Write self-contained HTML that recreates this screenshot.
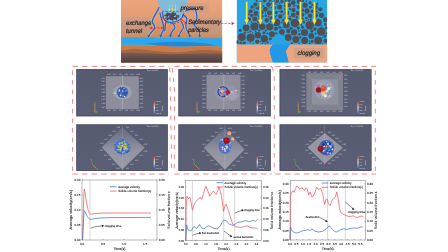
<!DOCTYPE html>
<html><head><meta charset="utf-8"><title>Graphical abstract</title>
<style>html,body{margin:0;padding:0;background:#fff;}body{width:448px;height:252px;overflow:hidden;}svg{display:block}text{text-rendering:geometricPrecision}</style>
</head><body>
<svg width="448" height="252" viewBox="0 0 448 252">
<defs>
<linearGradient id="gSoil" x1="0" y1="0" x2="0" y2="1"><stop offset="0" stop-color="#eda57c"/><stop offset="0.3" stop-color="#e09c74"/><stop offset="0.6" stop-color="#cf8a5e"/><stop offset="1" stop-color="#c47d50"/></linearGradient>
<linearGradient id="gDark" x1="0" y1="0" x2="0" y2="1"><stop offset="0" stop-color="#7a5a4c"/><stop offset="0.5" stop-color="#5f4c4a"/><stop offset="1" stop-color="#483d41"/></linearGradient>
<linearGradient id="gPanel" x1="0" y1="0" x2="0" y2="1"><stop offset="0" stop-color="#565b70"/><stop offset="1" stop-color="#5a5f75"/></linearGradient>
<linearGradient id="gDia" x1="0" y1="0" x2="0" y2="1"><stop offset="0" stop-color="#666a80"/><stop offset="0.3" stop-color="#7c7f90"/><stop offset="0.55" stop-color="#9394a1"/><stop offset="1" stop-color="#9b9ca7"/></linearGradient>
<linearGradient id="gBar" x1="0" y1="0" x2="0" y2="1"><stop offset="0" stop-color="#c42b2b"/><stop offset="0.3" stop-color="#e9a48c"/><stop offset="0.5" stop-color="#e6e6e6"/><stop offset="0.7" stop-color="#9db8e6"/><stop offset="1" stop-color="#3a55c0"/></linearGradient>
<clipPath id="clipL"><rect x="121" y="0" width="101.3" height="62.6"/></clipPath>
<clipPath id="clipR"><rect x="236.6" y="0" width="90.6" height="62.6"/></clipPath>
</defs>
<rect width="448" height="252" fill="#fff"/>
<g clip-path="url(#clipL)">
<rect x="121" y="0" width="101.30000000000001" height="62.6" fill="url(#gSoil)"/>
<path d="M121,44 L222.3,44 L222.3,63 L121,63Z" fill="#c87a49"/>
<path d="M121,50.6 C126,50 130,48.8 134,48.9 C142,49 150,50.6 160,51.6 S180,52.8 190,51.2 S210,49.8 222.3,51.4 L222.3,63 L121,63Z" fill="#a06746"/>
<path d="M121,53.4 C132,52 148,53.4 163,54 S198,53 222.3,53.6 L222.3,63 L121,63Z" fill="url(#gDark)"/>
<path d="M121,37.2 C140,36.6 160,37.6 180,37.6 S210,38 222.3,37.5 L222.3,46.9 C212,46.9 206,45.6 198,46.1 S182,46.8 170,46.2 S140,45 121,45.2Z" fill="#2ba8ee" stroke="#ee8a3c" stroke-width="0.5"/>
<path d="M146,43.6 C158,42.6 168,41.4 182,41.8 S206,43.4 217,45.6 C210,46.2 204,45.8 198,46.1 S182,46.8 170,46.2 S154,45.2 146,43.6Z" fill="#2487d8"/>
<path d="M157.4,0 L187.8,0 L184,12 C183.5,19 178,23.5 171,23.5 C165,23.5 162.3,19 162.2,12Z" fill="#7fbbdb"/>
<rect x="121" y="17" width="33" height="18.5" fill="#b0a09c" opacity="0.4"/>
<rect x="180" y="2.8" width="28.7" height="10" fill="#b0a09c" opacity="0.4"/>
<rect x="186.5" y="17" width="36" height="17.5" fill="#b0a09c" opacity="0.4"/>
<path d="M158.9,7.5 C157,13 152,18 152.3,22 C153,24.5 155.2,25 154.5,28 C153.5,31 150,33 148.6,36.4" fill="none" stroke="#f4b48c" stroke-width="2.4" stroke-linecap="round"/>
<path d="M160,13 C160.5,19 164.5,24 163.7,28.5 C163,32 161,33.5 160.6,36.4" fill="none" stroke="#f4b48c" stroke-width="2.4" stroke-linecap="round"/>
<path d="M166,22 C164,26 166.5,28 164.5,31" fill="none" stroke="#f4b48c" stroke-width="2.4" stroke-linecap="round"/>
<path d="M172.5,23 C174,25 176,26.5 174.5,28.5 C172.5,31 170.8,32 170.4,36.4" fill="none" stroke="#f4b48c" stroke-width="2.4" stroke-linecap="round"/>
<path d="M181,21.5 C183,24 184.3,26 183,28.5 C181,31.5 179.5,33 179,36.4" fill="none" stroke="#f4b48c" stroke-width="2.4" stroke-linecap="round"/>
<path d="M183,15 C186,16 187.5,18.5 186.5,22 C185.3,26 185.5,28 187,30.5 C188.5,33 189.5,34.5 189.8,36.4" fill="none" stroke="#f4b48c" stroke-width="2.4" stroke-linecap="round"/>
<path d="M195.5,9 C196,13 197.6,15.5 196.8,18.5 C196,21.5 193.5,23 194.6,25.5 C196,28 199,29 199.5,32 L199.6,36.4" fill="none" stroke="#f4b48c" stroke-width="2.4" stroke-linecap="round"/>
<path d="M185.5,11 C190,9 194,8.5 195.5,9" fill="none" stroke="#f4b48c" stroke-width="2.4" stroke-linecap="round"/>
<path d="M162.4,12.5 C162.6,18 165,22.3 170,22.4 C174,22.5 177,21.5 179.5,20 C181.5,18.5 183,16.5 183.4,14" fill="none" stroke="#f4b48c" stroke-width="2.4" stroke-linecap="round"/>
<path d="M158.9,7.5 C157,13 152,18 152.3,22 C153,24.5 155.2,25 154.5,28 C153.5,31 150,33 148.6,36.4" fill="none" stroke="#1668d2" stroke-width="1.35" stroke-linecap="round"/>
<path d="M160,13 C160.5,19 164.5,24 163.7,28.5 C163,32 161,33.5 160.6,36.4" fill="none" stroke="#1668d2" stroke-width="1.35" stroke-linecap="round"/>
<path d="M166,22 C164,26 166.5,28 164.5,31" fill="none" stroke="#1668d2" stroke-width="1.35" stroke-linecap="round"/>
<path d="M172.5,23 C174,25 176,26.5 174.5,28.5 C172.5,31 170.8,32 170.4,36.4" fill="none" stroke="#1668d2" stroke-width="1.35" stroke-linecap="round"/>
<path d="M181,21.5 C183,24 184.3,26 183,28.5 C181,31.5 179.5,33 179,36.4" fill="none" stroke="#1668d2" stroke-width="1.35" stroke-linecap="round"/>
<path d="M183,15 C186,16 187.5,18.5 186.5,22 C185.3,26 185.5,28 187,30.5 C188.5,33 189.5,34.5 189.8,36.4" fill="none" stroke="#1668d2" stroke-width="1.35" stroke-linecap="round"/>
<path d="M195.5,9 C196,13 197.6,15.5 196.8,18.5 C196,21.5 193.5,23 194.6,25.5 C196,28 199,29 199.5,32 L199.6,36.4" fill="none" stroke="#1668d2" stroke-width="1.35" stroke-linecap="round"/>
<path d="M185.5,11 C190,9 194,8.5 195.5,9" fill="none" stroke="#1668d2" stroke-width="1.35" stroke-linecap="round"/>
<path d="M162.4,12.5 C162.6,18 165,22.3 170,22.4 C174,22.5 177,21.5 179.5,20 C181.5,18.5 183,16.5 183.4,14" fill="none" stroke="#1668d2" stroke-width="1.35" stroke-linecap="round"/>
<path d="M147.0,35.3 L150.0,35.3 L148.5,37.9Z" fill="#1a63c8"/>
<path d="M159.1,35.3 L162.1,35.3 L160.6,37.9Z" fill="#1a63c8"/>
<path d="M168.9,35.3 L171.9,35.3 L170.4,37.9Z" fill="#1a63c8"/>
<path d="M177.5,35.3 L180.5,35.3 L179,37.9Z" fill="#1a63c8"/>
<path d="M188.3,35.3 L191.3,35.3 L189.8,37.9Z" fill="#1a63c8"/>
<path d="M198.1,35.3 L201.1,35.3 L199.6,37.9Z" fill="#1a63c8"/>
<circle cx="170.35" cy="17.92" r="0.93" fill="#4b454c"/>
<circle cx="176.33" cy="17.82" r="0.78" fill="#4b454c"/>
<circle cx="176.39" cy="17.56" r="0.62" fill="#4b454c"/>
<circle cx="169.86" cy="17.01" r="0.65" fill="#4b454c"/>
<circle cx="165.78" cy="18.18" r="0.66" fill="#4b454c"/>
<circle cx="172.55" cy="19.57" r="1.07" fill="#4b454c"/>
<circle cx="167.59" cy="15.49" r="1.09" fill="#4b454c"/>
<circle cx="177.99" cy="17.62" r="0.74" fill="#4b454c"/>
<circle cx="173.12" cy="17.63" r="0.75" fill="#4b454c"/>
<circle cx="172.84" cy="15.12" r="0.89" fill="#4b454c"/>
<circle cx="168.78" cy="14.82" r="0.87" fill="#4b454c"/>
<circle cx="173.22" cy="16.96" r="0.70" fill="#4b454c"/>
<circle cx="169.61" cy="14.35" r="0.76" fill="#4b454c"/>
<circle cx="167.44" cy="15.29" r="0.75" fill="#4b454c"/>
<circle cx="173.26" cy="13.55" r="0.72" fill="#4b454c"/>
<circle cx="166.94" cy="15.36" r="1.04" fill="#4b454c"/>
<circle cx="171.10" cy="14.58" r="1.09" fill="#4b454c"/>
<circle cx="175.03" cy="18.26" r="0.98" fill="#4b454c"/>
<circle cx="174.51" cy="18.77" r="0.62" fill="#4b454c"/>
<circle cx="168.51" cy="13.71" r="0.89" fill="#4b454c"/>
<circle cx="174.46" cy="15.10" r="0.95" fill="#4b454c"/>
<circle cx="167.05" cy="14.98" r="0.83" fill="#4b454c"/>
<circle cx="175.35" cy="13.48" r="0.84" fill="#4b454c"/>
<circle cx="170.69" cy="15.80" r="0.95" fill="#4b454c"/>
<circle cx="167.28" cy="13.58" r="1.01" fill="#4b454c"/>
<circle cx="170.64" cy="18.90" r="0.93" fill="#4b454c"/>
<circle cx="176.44" cy="16.96" r="0.68" fill="#4b454c"/>
<circle cx="172.90" cy="17.22" r="0.98" fill="#4b454c"/>
<circle cx="174.06" cy="17.97" r="0.80" fill="#4b454c"/>
<circle cx="173.01" cy="15.82" r="0.82" fill="#4b454c"/>
<circle cx="165.16" cy="15.51" r="1.01" fill="#4b454c"/>
<circle cx="174.09" cy="15.09" r="0.81" fill="#4b454c"/>
<circle cx="167.32" cy="19.37" r="1.08" fill="#4b454c"/>
<circle cx="173.36" cy="17.90" r="0.72" fill="#4b454c"/>
<circle cx="172.12" cy="19.23" r="0.89" fill="#4b454c"/>
<circle cx="171.56" cy="16.84" r="0.81" fill="#4b454c"/>
<circle cx="167.91" cy="18.69" r="1.08" fill="#4b454c"/>
<circle cx="169.71" cy="14.06" r="0.91" fill="#4b454c"/>
<circle cx="170.85" cy="15.81" r="1.05" fill="#4b454c"/>
<circle cx="172.86" cy="13.11" r="1.00" fill="#4b454c"/>
<circle cx="168.05" cy="18.10" r="0.65" fill="#4b454c"/>
<circle cx="170.41" cy="15.89" r="0.63" fill="#4b454c"/>
<circle cx="172.34" cy="18.08" r="0.77" fill="#4b454c"/>
<circle cx="171.70" cy="16.62" r="0.68" fill="#4b454c"/>
<circle cx="175.09" cy="17.96" r="0.61" fill="#4b454c"/>
<circle cx="175.57" cy="14.49" r="0.67" fill="#4b454c"/>
<circle cx="171.54" cy="18.84" r="0.78" fill="#4b454c"/>
<circle cx="176.35" cy="19.04" r="1.10" fill="#4b454c"/>
<circle cx="166.71" cy="17.16" r="0.64" fill="#4b454c"/>
<circle cx="174.98" cy="17.93" r="0.73" fill="#4b454c"/>
<circle cx="172.98" cy="15.26" r="0.61" fill="#4b454c"/>
<circle cx="176.59" cy="15.76" r="0.67" fill="#4b454c"/>
<circle cx="170.46" cy="16.43" r="0.86" fill="#4b454c"/>
<circle cx="178.23" cy="16.12" r="0.95" fill="#4b454c"/>
<circle cx="171.30" cy="18.90" r="0.68" fill="#4b454c"/>
<circle cx="172.32" cy="13.85" r="0.99" fill="#4b454c"/>
<circle cx="169.97" cy="18.17" r="1.01" fill="#4b454c"/>
<circle cx="178.22" cy="16.27" r="1.00" fill="#4b454c"/>
<circle cx="174.18" cy="13.63" r="0.71" fill="#4b454c"/>
<circle cx="167.33" cy="16.35" r="0.61" fill="#4b454c"/>
<path d="M162,11.4 L184,11.4" stroke="#e8202a" stroke-width="0.7" stroke-dasharray="2.2,1.4" fill="none"/>
<path d="M162.3,13 C162,20 166,23.7 172,23.7 C178,23.7 183,21 184,13" stroke="#e8202a" stroke-width="0.7" stroke-dasharray="2.2,1.4" fill="none"/>
<path d="M151,28 L162,28" stroke="#e8202a" stroke-width="0.8" stroke-dasharray="2,1.3" fill="none"/>
<path d="M149.3,28 L151.6,26.8 L151.6,29.2Z M163.6,28 L161.3,26.8 L161.3,29.2Z" fill="#e8202a"/>
<path d="M181,19 L186,23" stroke="#e8202a" stroke-width="0.8" fill="none"/>
<path d="M186.8,23.6 L184.3,23.2 L185.8,21.4Z" fill="#e8202a"/>
<path d="M169.3,4.5 L169.3,9.5" stroke="#f5ee3a" stroke-width="0.6" stroke-dasharray="1.2,0.6"/>
<path d="M168.20000000000002,9.2 L170.4,9.2 L169.3,11.2Z" fill="#fff200"/>
<path d="M172.3,4.5 L172.3,9.5" stroke="#f5ee3a" stroke-width="0.6" stroke-dasharray="1.2,0.6"/>
<path d="M171.20000000000002,9.2 L173.4,9.2 L172.3,11.2Z" fill="#fff200"/>
<path d="M175.4,4.5 L175.4,9.5" stroke="#f5ee3a" stroke-width="0.6" stroke-dasharray="1.2,0.6"/>
<path d="M174.3,9.2 L176.5,9.2 L175.4,11.2Z" fill="#fff200"/>
</g>
<text x="180.4" y="10" style="font-family:'Liberation Sans', sans-serif;font-style:italic;fill:#1e1a1a;stroke:#1e1a1a;stroke-width:0.18" font-size="6.3" textLength="23.2" lengthAdjust="spacingAndGlyphs">pressure</text>
<text x="125.9" y="25" style="font-family:'Liberation Sans', sans-serif;font-style:italic;fill:#1e1a1a;stroke:#1e1a1a;stroke-width:0.18" font-size="6.3" textLength="25.4" lengthAdjust="spacingAndGlyphs">exchange</text>
<text x="125.9" y="32.6" style="font-family:'Liberation Sans', sans-serif;font-style:italic;fill:#1e1a1a;stroke:#1e1a1a;stroke-width:0.18" font-size="6.3" textLength="16.2" lengthAdjust="spacingAndGlyphs">tunnel</text>
<text x="188.2" y="24.4" style="font-family:'Liberation Sans', sans-serif;font-style:italic;fill:#1e1a1a;stroke:#1e1a1a;stroke-width:0.18" font-size="6.3" textLength="32.6" lengthAdjust="spacingAndGlyphs">Sedimentary</text>
<text x="188.2" y="32" style="font-family:'Liberation Sans', sans-serif;font-style:italic;fill:#1e1a1a;stroke:#1e1a1a;stroke-width:0.18" font-size="6.3" textLength="20.7" lengthAdjust="spacingAndGlyphs">particles</text>
<path d="M185,23.4 L231,23.4" stroke="#e8202a" stroke-width="0.7" stroke-dasharray="2.2,1.4" fill="none"/>
<path d="M234.6,23.5 L231.6,22.1 L231.6,24.9Z" fill="#e8202a"/>
<g clip-path="url(#clipR)">
<rect x="236.6" y="0" width="90.6" height="62.6" fill="#28a5e3"/>
<circle cx="269.64" cy="26.85" r="3.63" fill="#504e54"/>
<circle cx="254.42" cy="26.50" r="4.02" fill="#504e54"/>
<circle cx="318.17" cy="40.49" r="3.88" fill="#504e54"/>
<circle cx="295.76" cy="39.59" r="3.48" fill="#504e54"/>
<circle cx="304.56" cy="32.52" r="3.58" fill="#504e54"/>
<circle cx="309.67" cy="25.22" r="4.23" fill="#504e54"/>
<circle cx="286.31" cy="24.88" r="3.41" fill="#504e54"/>
<circle cx="321.19" cy="31.54" r="4.27" fill="#504e54"/>
<circle cx="250.59" cy="37.75" r="4.06" fill="#504e54"/>
<circle cx="276.51" cy="22.40" r="3.73" fill="#504e54"/>
<circle cx="246.09" cy="27.84" r="3.44" fill="#504e54"/>
<circle cx="288.30" cy="37.41" r="3.49" fill="#504e54"/>
<circle cx="241.81" cy="37.14" r="3.83" fill="#504e54"/>
<circle cx="264.23" cy="38.71" r="3.69" fill="#504e54"/>
<circle cx="294.88" cy="22.96" r="4.24" fill="#504e54"/>
<circle cx="304.62" cy="40.46" r="3.52" fill="#504e54"/>
<circle cx="317.87" cy="22.67" r="3.81" fill="#504e54"/>
<circle cx="311.35" cy="35.89" r="2.95" fill="#504e54"/>
<circle cx="262.31" cy="26.72" r="3.28" fill="#504e54"/>
<circle cx="294.07" cy="32.32" r="3.17" fill="#504e54"/>
<circle cx="257.80" cy="35.35" r="3.26" fill="#504e54"/>
<circle cx="272.00" cy="34.22" r="3.03" fill="#504e54"/>
<circle cx="281.86" cy="31.77" r="2.87" fill="#504e54"/>
<circle cx="273.57" cy="3.31" r="2.30" fill="#504e54"/>
<circle cx="305.18" cy="5.16" r="2.63" fill="#504e54"/>
<circle cx="255.91" cy="13.50" r="2.46" fill="#504e54"/>
<circle cx="315.49" cy="7.56" r="2.49" fill="#504e54"/>
<circle cx="289.27" cy="5.11" r="2.05" fill="#504e54"/>
<circle cx="286.81" cy="13.05" r="2.45" fill="#504e54"/>
<circle cx="279.70" cy="7.12" r="2.55" fill="#504e54"/>
<circle cx="261.30" cy="12.30" r="2.34" fill="#504e54"/>
<circle cx="269.48" cy="12.67" r="2.52" fill="#504e54"/>
<circle cx="286.50" cy="18.27" r="2.08" fill="#504e54"/>
<circle cx="280.22" cy="16.53" r="2.19" fill="#504e54"/>
<circle cx="321.53" cy="15.32" r="2.59" fill="#504e54"/>
<circle cx="315.92" cy="15.35" r="2.12" fill="#504e54"/>
<circle cx="293.34" cy="15.05" r="2.34" fill="#504e54"/>
<circle cx="302.21" cy="14.81" r="2.10" fill="#504e54"/>
<circle cx="307.10" cy="10.92" r="2.63" fill="#504e54"/>
<circle cx="293.42" cy="10.08" r="2.19" fill="#504e54"/>
<circle cx="260.37" cy="19.52" r="2.18" fill="#504e54"/>
<circle cx="299.06" cy="1.70" r="2.34" fill="#504e54"/>
<circle cx="248.90" cy="19.28" r="2.15" fill="#504e54"/>
<circle cx="260.58" cy="3.10" r="2.07" fill="#504e54"/>
<circle cx="271.52" cy="18.45" r="2.13" fill="#504e54"/>
<circle cx="250.54" cy="11.32" r="2.10" fill="#504e54"/>
<circle cx="254.87" cy="19.04" r="2.52" fill="#504e54"/>
<circle cx="310.06" cy="15.86" r="2.27" fill="#504e54"/>
<circle cx="275.90" cy="28.77" r="2.07" fill="#504e54"/>
<circle cx="297.75" cy="13.27" r="2.17" fill="#504e54"/>
<circle cx="255.35" cy="4.54" r="2.10" fill="#504e54"/>
<circle cx="298.74" cy="6.97" r="2.07" fill="#504e54"/>
<circle cx="257.18" cy="41.61" r="2.06" fill="#504e54"/>
<circle cx="266.78" cy="20.23" r="2.19" fill="#504e54"/>
<circle cx="288.28" cy="31.00" r="2.18" fill="#504e54"/>
<circle cx="268.52" cy="4.54" r="2.37" fill="#504e54"/>
<circle cx="325.44" cy="19.65" r="2.48" fill="#504e54"/>
<circle cx="265.39" cy="9.24" r="2.44" fill="#504e54"/>
<circle cx="325.49" cy="40.93" r="2.12" fill="#504e54"/>
<circle cx="301.60" cy="19.32" r="2.10" fill="#504e54"/>
<circle cx="320.31" cy="9.33" r="2.05" fill="#504e54"/>
<circle cx="293.24" cy="2.63" r="2.34" fill="#504e54"/>
<circle cx="298.17" cy="28.11" r="1.53" fill="#504e54"/>
<circle cx="270.29" cy="38.75" r="1.53" fill="#504e54"/>
<circle cx="244.25" cy="42.99" r="1.60" fill="#504e54"/>
<circle cx="311.82" cy="30.98" r="1.67" fill="#504e54"/>
<circle cx="291.10" cy="28.17" r="1.50" fill="#504e54"/>
<circle cx="302.46" cy="10.27" r="1.69" fill="#504e54"/>
<circle cx="276.20" cy="12.67" r="1.69" fill="#504e54"/>
<circle cx="252.03" cy="7.01" r="1.69" fill="#504e54"/>
<circle cx="289.18" cy="0.56" r="1.61" fill="#504e54"/>
<circle cx="312.15" cy="41.44" r="1.58" fill="#504e54"/>
<circle cx="310.47" cy="7.18" r="1.49" fill="#504e54"/>
<circle cx="277.33" cy="1.40" r="1.59" fill="#504e54"/>
<circle cx="274.48" cy="7.73" r="1.84" fill="#504e54"/>
<circle cx="257.70" cy="8.37" r="1.52" fill="#504e54"/>
<circle cx="264.59" cy="0.61" r="1.83" fill="#504e54"/>
<circle cx="302.52" cy="27.27" r="1.45" fill="#504e54"/>
<circle cx="263.93" cy="32.81" r="1.53" fill="#504e54"/>
<circle cx="251.80" cy="15.48" r="1.80" fill="#504e54"/>
<circle cx="290.18" cy="19.31" r="1.45" fill="#504e54"/>
<circle cx="281.94" cy="1.61" r="1.64" fill="#504e54"/>
<circle cx="314.98" cy="29.04" r="1.79" fill="#504e54"/>
<circle cx="281.66" cy="11.64" r="1.54" fill="#504e54"/>
<circle cx="240.18" cy="30.45" r="1.60" fill="#504e54"/>
<circle cx="310.02" cy="2.81" r="1.62" fill="#504e54"/>
<circle cx="237.39" cy="41.98" r="1.71" fill="#504e54"/>
<circle cx="312.42" cy="11.17" r="1.79" fill="#504e54"/>
<circle cx="326.48" cy="27.77" r="1.61" fill="#504e54"/>
<circle cx="240.82" cy="42.96" r="1.54" fill="#504e54"/>
<circle cx="270.05" cy="0.31" r="1.53" fill="#504e54"/>
<circle cx="324.87" cy="36.27" r="1.47" fill="#504e54"/>
<circle cx="276.48" cy="33.31" r="1.18" fill="#504e54"/>
<circle cx="273.57" cy="15.47" r="1.15" fill="#504e54"/>
<circle cx="303.84" cy="22.23" r="1.19" fill="#504e54"/>
<circle cx="299.37" cy="34.21" r="1.22" fill="#504e54"/>
<circle cx="302.94" cy="0.84" r="1.20" fill="#504e54"/>
<circle cx="300.24" cy="37.40" r="1.15" fill="#504e54"/>
<circle cx="306.44" cy="18.01" r="1.29" fill="#504e54"/>
<circle cx="265.73" cy="15.81" r="1.31" fill="#504e54"/>
<circle cx="262.33" cy="16.18" r="1.23" fill="#504e54"/>
<circle cx="309.81" cy="43.49" r="1.03" fill="#504e54"/>
<circle cx="259.19" cy="30.35" r="1.20" fill="#504e54"/>
<circle cx="283.30" cy="20.27" r="1.31" fill="#504e54"/>
<circle cx="294.05" cy="6.33" r="1.03" fill="#504e54"/>
<circle cx="260.79" cy="7.33" r="1.31" fill="#504e54"/>
<circle cx="257.78" cy="22.35" r="1.02" fill="#504e54"/>
<circle cx="290.03" cy="8.89" r="1.04" fill="#504e54"/>
<circle cx="314.84" cy="3.30" r="1.03" fill="#504e54"/>
<circle cx="325.40" cy="24.41" r="1.31" fill="#504e54"/>
<circle cx="284.99" cy="9.36" r="1.07" fill="#504e54"/>
<circle cx="301.24" cy="24.71" r="1.09" fill="#504e54"/>
<circle cx="296.85" cy="17.43" r="1.31" fill="#504e54"/>
<circle cx="267.45" cy="33.53" r="1.08" fill="#504e54"/>
<circle cx="246.73" cy="22.21" r="1.18" fill="#504e54"/>
<circle cx="281.77" cy="22.46" r="1.04" fill="#504e54"/>
<circle cx="326.73" cy="33.34" r="1.19" fill="#504e54"/>
<circle cx="285.01" cy="5.79" r="1.18" fill="#504e54"/>
<circle cx="248.80" cy="14.36" r="1.04" fill="#504e54"/>
<circle cx="316.43" cy="11.67" r="1.16" fill="#504e54"/>
<circle cx="317.15" cy="3.95" r="1.10" fill="#504e54"/>
<circle cx="263.39" cy="6.06" r="1.05" fill="#504e54"/>
<circle cx="291.76" cy="43.37" r="1.05" fill="#504e54"/>
<circle cx="250.40" cy="31.38" r="1.08" fill="#504e54"/>
<circle cx="258.94" cy="16.14" r="1.02" fill="#504e54"/>
<circle cx="256.69" cy="1.00" r="1.14" fill="#504e54"/>
<circle cx="312.28" cy="4.97" r="1.07" fill="#504e54"/>
<circle cx="310.85" cy="19.66" r="1.18" fill="#504e54"/>
<circle cx="279.66" cy="27.35" r="1.27" fill="#504e54"/>
<circle cx="267.65" cy="42.72" r="1.10" fill="#504e54"/>
<circle cx="265.79" cy="30.54" r="1.12" fill="#504e54"/>
<circle cx="285.67" cy="1.12" r="1.22" fill="#504e54"/>
<circle cx="315.50" cy="33.60" r="1.04" fill="#504e54"/>
<circle cx="244.98" cy="32.69" r="1.27" fill="#504e54"/>
<circle cx="265.35" cy="43.77" r="0.72" fill="#504e54"/>
<circle cx="251.49" cy="22.10" r="0.78" fill="#504e54"/>
<circle cx="248.24" cy="32.24" r="0.84" fill="#504e54"/>
<circle cx="252.70" cy="32.87" r="0.74" fill="#504e54"/>
<circle cx="278.90" cy="11.53" r="0.76" fill="#504e54"/>
<circle cx="262.41" cy="43.25" r="0.87" fill="#504e54"/>
<circle cx="281.96" cy="27.80" r="0.71" fill="#504e54"/>
<circle cx="284.57" cy="3.15" r="0.69" fill="#504e54"/>
<circle cx="298.80" cy="30.99" r="0.81" fill="#504e54"/>
<circle cx="265.44" cy="13.00" r="0.71" fill="#504e54"/>
<circle cx="321.49" cy="25.99" r="0.81" fill="#504e54"/>
<circle cx="309.48" cy="40.96" r="0.76" fill="#504e54"/>
<circle cx="276.85" cy="15.34" r="0.71" fill="#504e54"/>
<circle cx="299.12" cy="43.34" r="0.87" fill="#504e54"/>
<circle cx="290.20" cy="16.52" r="0.88" fill="#504e54"/>
<circle cx="275.66" cy="16.80" r="0.86" fill="#504e54"/>
<circle cx="254.95" cy="8.08" r="0.79" fill="#504e54"/>
<circle cx="270.35" cy="21.72" r="0.75" fill="#504e54"/>
<circle cx="300.49" cy="30.09" r="0.68" fill="#504e54"/>
<circle cx="250.38" cy="42.77" r="0.70" fill="#504e54"/>
<circle cx="306.35" cy="1.14" r="0.78" fill="#504e54"/>
<circle cx="279.75" cy="3.12" r="0.77" fill="#504e54"/>
<circle cx="305.33" cy="14.19" r="0.74" fill="#504e54"/>
<circle cx="253.22" cy="43.87" r="0.70" fill="#504e54"/>
<circle cx="318.63" cy="12.74" r="0.81" fill="#504e54"/>
<circle cx="313.15" cy="20.54" r="0.70" fill="#504e54"/>
<circle cx="322.62" cy="37.67" r="0.71" fill="#504e54"/>
<circle cx="283.06" cy="14.43" r="0.80" fill="#504e54"/>
<circle cx="258.88" cy="24.27" r="0.68" fill="#504e54"/>
<circle cx="268.90" cy="8.00" r="0.83" fill="#504e54"/>
<circle cx="277.17" cy="4.30" r="0.68" fill="#504e54"/>
<circle cx="260.20" cy="41.71" r="0.71" fill="#504e54"/>
<circle cx="283.72" cy="35.13" r="0.70" fill="#504e54"/>
<circle cx="271.36" cy="7.58" r="0.82" fill="#504e54"/>
<circle cx="296.01" cy="5.36" r="0.71" fill="#504e54"/>
<circle cx="258.71" cy="5.97" r="0.79" fill="#504e54"/>
<circle cx="301.84" cy="6.91" r="0.71" fill="#504e54"/>
<circle cx="268.45" cy="16.40" r="0.88" fill="#504e54"/>
<circle cx="308.34" cy="19.68" r="0.72" fill="#504e54"/>
<circle cx="254.00" cy="10.17" r="0.81" fill="#504e54"/>
<circle cx="274.65" cy="0.05" r="0.80" fill="#504e54"/>
<circle cx="315.02" cy="18.46" r="0.70" fill="#504e54"/>
<circle cx="255.66" cy="31.51" r="0.78" fill="#504e54"/>
<circle cx="322.45" cy="43.78" r="0.68" fill="#504e54"/>
<circle cx="306.31" cy="20.52" r="0.79" fill="#504e54"/>
<circle cx="272.26" cy="9.79" r="0.71" fill="#504e54"/>
<path d="M236.6,44.4 L272.9,44.4 C271,46.5 269.6,49 269.8,51.1 C270,54.5 272,58 273,63 L236.6,63Z" fill="#eea47e"/>
<path d="M327.2,44.4 L289.8,44.4 L285.7,51.1 L288.7,63 L327.2,63Z" fill="#eea47e"/>
<path d="M272.9,44.4 C271,46.5 269.6,49 269.8,51.1 C270,54.5 272,58 273,63 L288.7,63 L285.7,51.1 L289.8,44.4Z" fill="#2398e4"/>
<rect x="294" y="48" width="29.7" height="10.4" fill="#a89a98" opacity="0.42"/>
<path d="M246.7,1.8 L246.7,20.5" stroke="#1892e6" stroke-width="2.6" opacity="0.6"/>
<path d="M246.7,1.8 L246.7,20.5" stroke="#f9e733" stroke-width="1.8"/>
<path d="M244.39999999999998,19.4 L249.0,19.4 L246.7,24.7Z" fill="#f9e733"/>
<path d="M260.4,1.8 L260.4,20.5" stroke="#1892e6" stroke-width="2.6" opacity="0.6"/>
<path d="M260.4,1.8 L260.4,20.5" stroke="#f9e733" stroke-width="1.8"/>
<path d="M258.09999999999997,19.4 L262.7,19.4 L260.4,24.7Z" fill="#f9e733"/>
<path d="M273.4,1.8 L273.4,20.5" stroke="#1892e6" stroke-width="2.6" opacity="0.6"/>
<path d="M273.4,1.8 L273.4,20.5" stroke="#f9e733" stroke-width="1.8"/>
<path d="M271.09999999999997,19.4 L275.7,19.4 L273.4,24.7Z" fill="#f9e733"/>
<path d="M286.6,1.8 L286.6,20.5" stroke="#1892e6" stroke-width="2.6" opacity="0.6"/>
<path d="M286.6,1.8 L286.6,20.5" stroke="#f9e733" stroke-width="1.8"/>
<path d="M284.3,19.4 L288.90000000000003,19.4 L286.6,24.7Z" fill="#f9e733"/>
<path d="M300.5,1.8 L300.5,20.5" stroke="#1892e6" stroke-width="2.6" opacity="0.6"/>
<path d="M300.5,1.8 L300.5,20.5" stroke="#f9e733" stroke-width="1.8"/>
<path d="M298.2,19.4 L302.8,19.4 L300.5,24.7Z" fill="#f9e733"/>
<path d="M314.5,1.8 L314.5,20.5" stroke="#1892e6" stroke-width="2.6" opacity="0.6"/>
<path d="M314.5,1.8 L314.5,20.5" stroke="#f9e733" stroke-width="1.8"/>
<path d="M312.2,19.4 L316.8,19.4 L314.5,24.7Z" fill="#f9e733"/>
</g>
<text x="297.6" y="54.8" style="font-family:'Liberation Sans', sans-serif;font-style:italic;fill:#1e1a1a;stroke:#1e1a1a;stroke-width:0.18" font-size="6.3" textLength="22.5" lengthAdjust="spacingAndGlyphs">clogging</text>
<path d="M72.4,66.4 L169,66.4" stroke="#ec8a88" stroke-width="1" fill="none" stroke-dasharray="5.5,4.1"/>
<path d="M174.3,66.4 L272,66.4" stroke="#ec8a88" stroke-width="1" fill="none" stroke-dasharray="5.5,4.1"/>
<path d="M275.2,66.4 L376,66.4" stroke="#ec8a88" stroke-width="1" fill="none" stroke-dasharray="5.5,4.1"/>
<path d="M72.4,174.0 L169,174.0" stroke="#ec8a88" stroke-width="1" fill="none" stroke-dasharray="5.5,4.1"/>
<path d="M174.3,174.0 L272,174.0" stroke="#ec8a88" stroke-width="1" fill="none" stroke-dasharray="5.5,4.1"/>
<path d="M275.2,174.0 L376,174.0" stroke="#ec8a88" stroke-width="1" fill="none" stroke-dasharray="5.5,4.1"/>
<path d="M72.6,70.4 L72.6,172" stroke="#ec8a88" stroke-width="1" fill="none" stroke-dasharray="4.6,5.0"/>
<path d="M169.6,67.5 L170.3,92 L171.4,150 L171.6,173" stroke="#ec8a88" stroke-width="1" fill="none" stroke-dasharray="4.6,5.0"/>
<path d="M172.2,68 C172.8,76 174.4,84 174.5,92 L174.3,173" stroke="#ec8a88" stroke-width="1" fill="none" stroke-dasharray="4.6,5.0"/>
<path d="M272,67 C273,70 274.2,74 274.2,78 L274.2,173" stroke="#ec8a88" stroke-width="1" fill="none" stroke-dasharray="4.6,5.0"/>
<path d="M375.3,70.4 L375.3,172" stroke="#ec8a88" stroke-width="1" fill="none" stroke-dasharray="4.6,5.0"/>
<rect x="76.2" y="69.1" width="91.6" height="47.3" fill="#3b4058"/>
<rect x="77.0" y="69.6" width="90.6" height="46.0" fill="url(#gPanel)"/>
<rect x="105.80" y="76.20" width="33.00" height="32.90" fill="#8d8d9c"/>
<path d="M122.60,75.20 L122.60,110.10" stroke="#d4d4dc" stroke-width="0.35"/>
<text x="101.50" y="78.70" style="font-family:'Liberation Sans', sans-serif;fill:#e8e8f0" font-size="1.7" opacity="0.9">0.01</text>
<text x="139.80" y="78.70" style="font-family:'Liberation Sans', sans-serif;fill:#e8e8f0" font-size="1.7" opacity="0.9">0.01</text>
<text x="101.50" y="82.31" style="font-family:'Liberation Sans', sans-serif;fill:#e8e8f0" font-size="1.7" opacity="0.9">0.02</text>
<text x="139.80" y="82.31" style="font-family:'Liberation Sans', sans-serif;fill:#e8e8f0" font-size="1.7" opacity="0.9">0.02</text>
<text x="101.50" y="85.92" style="font-family:'Liberation Sans', sans-serif;fill:#e8e8f0" font-size="1.7" opacity="0.9">0.03</text>
<text x="139.80" y="85.92" style="font-family:'Liberation Sans', sans-serif;fill:#e8e8f0" font-size="1.7" opacity="0.9">0.03</text>
<text x="101.50" y="89.54" style="font-family:'Liberation Sans', sans-serif;fill:#e8e8f0" font-size="1.7" opacity="0.9">0.04</text>
<text x="139.80" y="89.54" style="font-family:'Liberation Sans', sans-serif;fill:#e8e8f0" font-size="1.7" opacity="0.9">0.04</text>
<text x="101.50" y="93.15" style="font-family:'Liberation Sans', sans-serif;fill:#e8e8f0" font-size="1.7" opacity="0.9">0.05</text>
<text x="139.80" y="93.15" style="font-family:'Liberation Sans', sans-serif;fill:#e8e8f0" font-size="1.7" opacity="0.9">0.05</text>
<text x="101.50" y="96.76" style="font-family:'Liberation Sans', sans-serif;fill:#e8e8f0" font-size="1.7" opacity="0.9">0.06</text>
<text x="139.80" y="96.76" style="font-family:'Liberation Sans', sans-serif;fill:#e8e8f0" font-size="1.7" opacity="0.9">0.06</text>
<text x="101.50" y="100.38" style="font-family:'Liberation Sans', sans-serif;fill:#e8e8f0" font-size="1.7" opacity="0.9">0.07</text>
<text x="139.80" y="100.38" style="font-family:'Liberation Sans', sans-serif;fill:#e8e8f0" font-size="1.7" opacity="0.9">0.07</text>
<text x="101.50" y="103.99" style="font-family:'Liberation Sans', sans-serif;fill:#e8e8f0" font-size="1.7" opacity="0.9">0.08</text>
<text x="139.80" y="103.99" style="font-family:'Liberation Sans', sans-serif;fill:#e8e8f0" font-size="1.7" opacity="0.9">0.08</text>
<text x="101.50" y="107.60" style="font-family:'Liberation Sans', sans-serif;fill:#e8e8f0" font-size="1.7" opacity="0.9">0.09</text>
<text x="139.80" y="107.60" style="font-family:'Liberation Sans', sans-serif;fill:#e8e8f0" font-size="1.7" opacity="0.9">0.09</text>
<text x="107.30" y="75.40" style="font-family:'Liberation Sans', sans-serif;fill:#e8e8f0" font-size="1.7" opacity="0.9">0.00</text>
<text x="107.30" y="111.10" style="font-family:'Liberation Sans', sans-serif;fill:#e8e8f0" font-size="1.7" opacity="0.9">0.00</text>
<text x="113.10" y="75.40" style="font-family:'Liberation Sans', sans-serif;fill:#e8e8f0" font-size="1.7" opacity="0.9">0.01</text>
<text x="113.10" y="111.10" style="font-family:'Liberation Sans', sans-serif;fill:#e8e8f0" font-size="1.7" opacity="0.9">0.01</text>
<text x="118.90" y="75.40" style="font-family:'Liberation Sans', sans-serif;fill:#e8e8f0" font-size="1.7" opacity="0.9">0.02</text>
<text x="118.90" y="111.10" style="font-family:'Liberation Sans', sans-serif;fill:#e8e8f0" font-size="1.7" opacity="0.9">0.02</text>
<text x="124.70" y="75.40" style="font-family:'Liberation Sans', sans-serif;fill:#e8e8f0" font-size="1.7" opacity="0.9">0.03</text>
<text x="124.70" y="111.10" style="font-family:'Liberation Sans', sans-serif;fill:#e8e8f0" font-size="1.7" opacity="0.9">0.03</text>
<text x="130.50" y="75.40" style="font-family:'Liberation Sans', sans-serif;fill:#e8e8f0" font-size="1.7" opacity="0.9">0.04</text>
<text x="130.50" y="111.10" style="font-family:'Liberation Sans', sans-serif;fill:#e8e8f0" font-size="1.7" opacity="0.9">0.04</text>
<text x="136.30" y="75.40" style="font-family:'Liberation Sans', sans-serif;fill:#e8e8f0" font-size="1.7" opacity="0.9">0.05</text>
<text x="136.30" y="111.10" style="font-family:'Liberation Sans', sans-serif;fill:#e8e8f0" font-size="1.7" opacity="0.9">0.05</text>
<ellipse cx="122.5" cy="92.3" rx="10" ry="7.2" fill="#aab6d6" opacity="0.35"/>
<ellipse cx="122.5" cy="92.3" rx="7.6" ry="6.6" fill="none" stroke="#c9cf9a" stroke-width="0.4" opacity="0.7"/>
<circle cx="122.5" cy="92.3" r="5.6" fill="#3d62b4"/>
<circle cx="122.82" cy="96.99" r="0.52" fill="#5a86d6" opacity="1"/>
<circle cx="122.03" cy="88.48" r="0.71" fill="#2b4ea8" opacity="1"/>
<circle cx="125.90" cy="90.79" r="0.65" fill="#2b4ea8" opacity="1"/>
<circle cx="125.82" cy="90.87" r="0.41" fill="#8fb0e6" opacity="1"/>
<circle cx="122.61" cy="91.07" r="0.73" fill="#d9e2f4" opacity="1"/>
<circle cx="119.45" cy="93.05" r="0.57" fill="#2b4ea8" opacity="1"/>
<circle cx="126.90" cy="90.40" r="0.45" fill="#d9e2f4" opacity="1"/>
<circle cx="121.92" cy="87.34" r="0.67" fill="#c9c36a" opacity="1"/>
<circle cx="120.66" cy="87.71" r="0.43" fill="#224194" opacity="1"/>
<circle cx="121.29" cy="92.69" r="0.61" fill="#5a86d6" opacity="1"/>
<circle cx="119.13" cy="94.85" r="0.52" fill="#2b4ea8" opacity="1"/>
<circle cx="119.34" cy="90.10" r="0.82" fill="#d9e2f4" opacity="1"/>
<circle cx="124.92" cy="95.97" r="0.75" fill="#224194" opacity="1"/>
<circle cx="119.68" cy="96.12" r="0.50" fill="#2b4ea8" opacity="1"/>
<circle cx="124.04" cy="88.86" r="0.61" fill="#d9e2f4" opacity="1"/>
<circle cx="124.97" cy="93.02" r="0.71" fill="#224194" opacity="1"/>
<circle cx="124.65" cy="96.44" r="0.78" fill="#c9c36a" opacity="1"/>
<circle cx="119.06" cy="91.17" r="0.65" fill="#d9e2f4" opacity="1"/>
<circle cx="124.27" cy="90.09" r="0.83" fill="#2b4ea8" opacity="1"/>
<circle cx="125.84" cy="91.17" r="0.81" fill="#5a86d6" opacity="1"/>
<circle cx="124.62" cy="96.44" r="0.59" fill="#d9e2f4" opacity="1"/>
<circle cx="120.63" cy="95.31" r="0.88" fill="#d9e2f4" opacity="1"/>
<circle cx="123.07" cy="95.84" r="0.63" fill="#8fb0e6" opacity="1"/>
<circle cx="120.60" cy="93.27" r="0.45" fill="#5a86d6" opacity="1"/>
<circle cx="125.71" cy="93.73" r="0.66" fill="#224194" opacity="1"/>
<circle cx="122.60" cy="87.83" r="0.60" fill="#2b4ea8" opacity="1"/>
<circle cx="115.0" cy="93.3" r="0.8" fill="#e6e9f4"/>
<text x="146.80" y="71.30" style="font-family:'Liberation Sans', sans-serif;fill:#e8e8f0" font-size="1.7" opacity="0.85">Time: 0.000000</text>
<rect x="153.70" y="101.00" width="1.2" height="13.4" fill="url(#gBar)"/>
<text x="155.70" y="102.00" style="font-family:'Liberation Sans', sans-serif;fill:#e8e8f0" font-size="1.5" opacity="0.85">2.0e-01</text>
<text x="155.70" y="105.10" style="font-family:'Liberation Sans', sans-serif;fill:#e8e8f0" font-size="1.5" opacity="0.85">0.15</text>
<text x="155.70" y="108.20" style="font-family:'Liberation Sans', sans-serif;fill:#e8e8f0" font-size="1.5" opacity="0.85">0.1</text>
<text x="155.70" y="111.30" style="font-family:'Liberation Sans', sans-serif;fill:#e8e8f0" font-size="1.5" opacity="0.85">0.05</text>
<text x="155.70" y="114.40" style="font-family:'Liberation Sans', sans-serif;fill:#e8e8f0" font-size="1.5" opacity="0.85">0.0e+00</text>
<text transform="translate(162.70,111.00) rotate(-90)" style="font-family:'Liberation Sans', sans-serif;fill:#e8e8f0" font-size="1.5" opacity="0.8">Velocity</text>
<path d="M94.9,111.8 L94.9,103.2" stroke="#c9a14e" stroke-width="0.7"/>
<path d="M94.9,111.8 L86.9,111.8" stroke="#c03a4a" stroke-width="0.5"/>
<rect x="94.7" y="111.2" width="2.6" height="1.4" fill="#58b04a"/>
<text x="85.9" y="110.2" font-size="2" style="font-family:'Liberation Sans', sans-serif;fill:#d62b3a">X</text>
<text x="94.2" y="102.8" font-size="2" style="font-family:'Liberation Sans', sans-serif;fill:#d9a94a">Y</text>
<rect x="178.3" y="69.1" width="92.5" height="47.3" fill="#3b4058"/>
<rect x="179.10000000000002" y="69.6" width="91.5" height="46.0" fill="url(#gPanel)"/>
<rect x="206.50" y="74.80" width="34.00" height="34.50" fill="#8d8d9c"/>
<path d="M223.80,73.80 L223.80,110.30" stroke="#d4d4dc" stroke-width="0.35"/>
<text x="202.20" y="77.30" style="font-family:'Liberation Sans', sans-serif;fill:#e8e8f0" font-size="1.7" opacity="0.9">0.01</text>
<text x="241.50" y="77.30" style="font-family:'Liberation Sans', sans-serif;fill:#e8e8f0" font-size="1.7" opacity="0.9">0.01</text>
<text x="202.20" y="81.11" style="font-family:'Liberation Sans', sans-serif;fill:#e8e8f0" font-size="1.7" opacity="0.9">0.02</text>
<text x="241.50" y="81.11" style="font-family:'Liberation Sans', sans-serif;fill:#e8e8f0" font-size="1.7" opacity="0.9">0.02</text>
<text x="202.20" y="84.92" style="font-family:'Liberation Sans', sans-serif;fill:#e8e8f0" font-size="1.7" opacity="0.9">0.03</text>
<text x="241.50" y="84.92" style="font-family:'Liberation Sans', sans-serif;fill:#e8e8f0" font-size="1.7" opacity="0.9">0.03</text>
<text x="202.20" y="88.74" style="font-family:'Liberation Sans', sans-serif;fill:#e8e8f0" font-size="1.7" opacity="0.9">0.04</text>
<text x="241.50" y="88.74" style="font-family:'Liberation Sans', sans-serif;fill:#e8e8f0" font-size="1.7" opacity="0.9">0.04</text>
<text x="202.20" y="92.55" style="font-family:'Liberation Sans', sans-serif;fill:#e8e8f0" font-size="1.7" opacity="0.9">0.05</text>
<text x="241.50" y="92.55" style="font-family:'Liberation Sans', sans-serif;fill:#e8e8f0" font-size="1.7" opacity="0.9">0.05</text>
<text x="202.20" y="96.36" style="font-family:'Liberation Sans', sans-serif;fill:#e8e8f0" font-size="1.7" opacity="0.9">0.06</text>
<text x="241.50" y="96.36" style="font-family:'Liberation Sans', sans-serif;fill:#e8e8f0" font-size="1.7" opacity="0.9">0.06</text>
<text x="202.20" y="100.17" style="font-family:'Liberation Sans', sans-serif;fill:#e8e8f0" font-size="1.7" opacity="0.9">0.07</text>
<text x="241.50" y="100.17" style="font-family:'Liberation Sans', sans-serif;fill:#e8e8f0" font-size="1.7" opacity="0.9">0.07</text>
<text x="202.20" y="103.99" style="font-family:'Liberation Sans', sans-serif;fill:#e8e8f0" font-size="1.7" opacity="0.9">0.08</text>
<text x="241.50" y="103.99" style="font-family:'Liberation Sans', sans-serif;fill:#e8e8f0" font-size="1.7" opacity="0.9">0.08</text>
<text x="202.20" y="107.80" style="font-family:'Liberation Sans', sans-serif;fill:#e8e8f0" font-size="1.7" opacity="0.9">0.09</text>
<text x="241.50" y="107.80" style="font-family:'Liberation Sans', sans-serif;fill:#e8e8f0" font-size="1.7" opacity="0.9">0.09</text>
<text x="208.00" y="74.00" style="font-family:'Liberation Sans', sans-serif;fill:#e8e8f0" font-size="1.7" opacity="0.9">0.00</text>
<text x="208.00" y="111.30" style="font-family:'Liberation Sans', sans-serif;fill:#e8e8f0" font-size="1.7" opacity="0.9">0.00</text>
<text x="214.00" y="74.00" style="font-family:'Liberation Sans', sans-serif;fill:#e8e8f0" font-size="1.7" opacity="0.9">0.01</text>
<text x="214.00" y="111.30" style="font-family:'Liberation Sans', sans-serif;fill:#e8e8f0" font-size="1.7" opacity="0.9">0.01</text>
<text x="220.00" y="74.00" style="font-family:'Liberation Sans', sans-serif;fill:#e8e8f0" font-size="1.7" opacity="0.9">0.02</text>
<text x="220.00" y="111.30" style="font-family:'Liberation Sans', sans-serif;fill:#e8e8f0" font-size="1.7" opacity="0.9">0.02</text>
<text x="226.00" y="74.00" style="font-family:'Liberation Sans', sans-serif;fill:#e8e8f0" font-size="1.7" opacity="0.9">0.03</text>
<text x="226.00" y="111.30" style="font-family:'Liberation Sans', sans-serif;fill:#e8e8f0" font-size="1.7" opacity="0.9">0.03</text>
<text x="232.00" y="74.00" style="font-family:'Liberation Sans', sans-serif;fill:#e8e8f0" font-size="1.7" opacity="0.9">0.04</text>
<text x="232.00" y="111.30" style="font-family:'Liberation Sans', sans-serif;fill:#e8e8f0" font-size="1.7" opacity="0.9">0.04</text>
<text x="238.00" y="74.00" style="font-family:'Liberation Sans', sans-serif;fill:#e8e8f0" font-size="1.7" opacity="0.9">0.05</text>
<text x="238.00" y="111.30" style="font-family:'Liberation Sans', sans-serif;fill:#e8e8f0" font-size="1.7" opacity="0.9">0.05</text>
<ellipse cx="226" cy="93" rx="11" ry="8" fill="#aab6d6" opacity="0.25"/>
<circle cx="233.5" cy="96.2" r="4.6" fill="#c8b4cf" opacity="0.3" stroke="#d0a6c6" stroke-width="0.4"/>
<circle cx="236.2" cy="93" r="3.2" fill="none" stroke="#b9b6dd" stroke-width="0.4" opacity="0.8"/>
<circle cx="223" cy="91.8" r="5" fill="#8d88b4" stroke="#2b3a8a" stroke-width="1.1"/>
<circle cx="225.68" cy="95.02" r="0.61" fill="#b9a0c8" opacity="1"/>
<circle cx="223.05" cy="90.72" r="0.47" fill="#b9a0c8" opacity="1"/>
<circle cx="222.46" cy="90.78" r="0.65" fill="#b9a0c8" opacity="1"/>
<circle cx="224.45" cy="95.40" r="0.68" fill="#6a5aa8" opacity="1"/>
<circle cx="225.60" cy="91.76" r="0.73" fill="#6a5aa8" opacity="1"/>
<circle cx="221.15" cy="91.05" r="0.52" fill="#d4d6ee" opacity="1"/>
<circle cx="220.87" cy="88.89" r="0.40" fill="#d4d6ee" opacity="1"/>
<circle cx="223.52" cy="92.37" r="0.65" fill="#3b3f95" opacity="1"/>
<circle cx="227.02" cy="91.66" r="0.48" fill="#3b3f95" opacity="1"/>
<circle cx="220.70" cy="92.64" r="0.71" fill="#3b3f95" opacity="1"/>
<circle cx="221.71" cy="94.27" r="0.48" fill="#b9a0c8" opacity="1"/>
<circle cx="221.30" cy="91.20" r="0.57" fill="#b9a0c8" opacity="1"/>
<circle cx="222.2" cy="91.3" r="1.7" fill="#e9b089"/>
<circle cx="228" cy="92.3" r="2.1" fill="#b01a2a"/>
<circle cx="231.8" cy="91.8" r="0.9" fill="#efc6a4"/>
<circle cx="236" cy="90.6" r="0.9" fill="#efc6a4"/>
<circle cx="226.5" cy="96.5" r="0.9" fill="#efc6a4"/>
<circle cx="219.5" cy="88.5" r="0.7" fill="#efc6a4"/>
<circle cx="221" cy="96" r="0.7" fill="#efc6a4"/>
<text x="249.80" y="71.30" style="font-family:'Liberation Sans', sans-serif;fill:#e8e8f0" font-size="1.7" opacity="0.85">Time: 10.000000</text>
<rect x="256.70" y="101.00" width="1.2" height="13.4" fill="url(#gBar)"/>
<text x="258.70" y="102.00" style="font-family:'Liberation Sans', sans-serif;fill:#e8e8f0" font-size="1.5" opacity="0.85">2.0e-01</text>
<text x="258.70" y="105.10" style="font-family:'Liberation Sans', sans-serif;fill:#e8e8f0" font-size="1.5" opacity="0.85">0.15</text>
<text x="258.70" y="108.20" style="font-family:'Liberation Sans', sans-serif;fill:#e8e8f0" font-size="1.5" opacity="0.85">0.1</text>
<text x="258.70" y="111.30" style="font-family:'Liberation Sans', sans-serif;fill:#e8e8f0" font-size="1.5" opacity="0.85">0.05</text>
<text x="258.70" y="114.40" style="font-family:'Liberation Sans', sans-serif;fill:#e8e8f0" font-size="1.5" opacity="0.85">0.0e+00</text>
<text transform="translate(265.70,111.00) rotate(-90)" style="font-family:'Liberation Sans', sans-serif;fill:#e8e8f0" font-size="1.5" opacity="0.8">Velocity</text>
<path d="M197.0,111.8 L197.0,103.2" stroke="#c9a14e" stroke-width="0.7"/>
<path d="M197.0,111.8 L189.0,111.8" stroke="#c03a4a" stroke-width="0.5"/>
<rect x="196.8" y="111.2" width="2.6" height="1.4" fill="#58b04a"/>
<text x="188.0" y="110.2" font-size="2" style="font-family:'Liberation Sans', sans-serif;fill:#d62b3a">X</text>
<text x="196.3" y="102.8" font-size="2" style="font-family:'Liberation Sans', sans-serif;fill:#d9a94a">Y</text>
<rect x="279.5" y="69.1" width="92" height="47.3" fill="#3b4058"/>
<rect x="280.3" y="69.6" width="91.0" height="46.0" fill="url(#gPanel)"/>
<rect x="306.3" y="73.2" width="36.7" height="37.1" fill="#80828f"/>
<rect x="312" y="79.3" width="26.3" height="25.4" fill="#8f909e"/>
<path d="M306.30,73.20 L312.00,79.30" stroke="#a8a9b4" stroke-width="0.3"/>
<path d="M343.00,73.20 L338.30,79.30" stroke="#a8a9b4" stroke-width="0.3"/>
<path d="M306.30,110.30 L312.00,104.70" stroke="#a8a9b4" stroke-width="0.3"/>
<path d="M343.00,110.30 L338.30,104.70" stroke="#a8a9b4" stroke-width="0.3"/>
<text x="301.65" y="76.10" style="font-family:'Liberation Sans', sans-serif;fill:#e8e8f0" font-size="1.7" opacity="0.9">0.01</text>
<text x="344.15" y="76.10" style="font-family:'Liberation Sans', sans-serif;fill:#e8e8f0" font-size="1.7" opacity="0.9">0.01</text>
<text x="301.65" y="80.00" style="font-family:'Liberation Sans', sans-serif;fill:#e8e8f0" font-size="1.7" opacity="0.9">0.02</text>
<text x="344.15" y="80.00" style="font-family:'Liberation Sans', sans-serif;fill:#e8e8f0" font-size="1.7" opacity="0.9">0.02</text>
<text x="301.65" y="83.90" style="font-family:'Liberation Sans', sans-serif;fill:#e8e8f0" font-size="1.7" opacity="0.9">0.03</text>
<text x="344.15" y="83.90" style="font-family:'Liberation Sans', sans-serif;fill:#e8e8f0" font-size="1.7" opacity="0.9">0.03</text>
<text x="301.65" y="87.80" style="font-family:'Liberation Sans', sans-serif;fill:#e8e8f0" font-size="1.7" opacity="0.9">0.04</text>
<text x="344.15" y="87.80" style="font-family:'Liberation Sans', sans-serif;fill:#e8e8f0" font-size="1.7" opacity="0.9">0.04</text>
<text x="301.65" y="91.70" style="font-family:'Liberation Sans', sans-serif;fill:#e8e8f0" font-size="1.7" opacity="0.9">0.05</text>
<text x="344.15" y="91.70" style="font-family:'Liberation Sans', sans-serif;fill:#e8e8f0" font-size="1.7" opacity="0.9">0.05</text>
<text x="301.65" y="95.60" style="font-family:'Liberation Sans', sans-serif;fill:#e8e8f0" font-size="1.7" opacity="0.9">0.06</text>
<text x="344.15" y="95.60" style="font-family:'Liberation Sans', sans-serif;fill:#e8e8f0" font-size="1.7" opacity="0.9">0.06</text>
<text x="301.65" y="99.50" style="font-family:'Liberation Sans', sans-serif;fill:#e8e8f0" font-size="1.7" opacity="0.9">0.07</text>
<text x="344.15" y="99.50" style="font-family:'Liberation Sans', sans-serif;fill:#e8e8f0" font-size="1.7" opacity="0.9">0.07</text>
<text x="301.65" y="103.40" style="font-family:'Liberation Sans', sans-serif;fill:#e8e8f0" font-size="1.7" opacity="0.9">0.08</text>
<text x="344.15" y="103.40" style="font-family:'Liberation Sans', sans-serif;fill:#e8e8f0" font-size="1.7" opacity="0.9">0.08</text>
<text x="301.65" y="107.30" style="font-family:'Liberation Sans', sans-serif;fill:#e8e8f0" font-size="1.7" opacity="0.9">0.09</text>
<text x="344.15" y="107.30" style="font-family:'Liberation Sans', sans-serif;fill:#e8e8f0" font-size="1.7" opacity="0.9">0.09</text>
<text x="307.65" y="72.70" style="font-family:'Liberation Sans', sans-serif;fill:#e8e8f0" font-size="1.7" opacity="0.9">0.00</text>
<text x="307.65" y="112.30" style="font-family:'Liberation Sans', sans-serif;fill:#e8e8f0" font-size="1.7" opacity="0.9">0.00</text>
<text x="313.85" y="72.70" style="font-family:'Liberation Sans', sans-serif;fill:#e8e8f0" font-size="1.7" opacity="0.9">0.01</text>
<text x="313.85" y="112.30" style="font-family:'Liberation Sans', sans-serif;fill:#e8e8f0" font-size="1.7" opacity="0.9">0.01</text>
<text x="320.05" y="72.70" style="font-family:'Liberation Sans', sans-serif;fill:#e8e8f0" font-size="1.7" opacity="0.9">0.02</text>
<text x="320.05" y="112.30" style="font-family:'Liberation Sans', sans-serif;fill:#e8e8f0" font-size="1.7" opacity="0.9">0.02</text>
<text x="326.25" y="72.70" style="font-family:'Liberation Sans', sans-serif;fill:#e8e8f0" font-size="1.7" opacity="0.9">0.03</text>
<text x="326.25" y="112.30" style="font-family:'Liberation Sans', sans-serif;fill:#e8e8f0" font-size="1.7" opacity="0.9">0.03</text>
<text x="332.45" y="72.70" style="font-family:'Liberation Sans', sans-serif;fill:#e8e8f0" font-size="1.7" opacity="0.9">0.04</text>
<text x="332.45" y="112.30" style="font-family:'Liberation Sans', sans-serif;fill:#e8e8f0" font-size="1.7" opacity="0.9">0.04</text>
<text x="338.65" y="72.70" style="font-family:'Liberation Sans', sans-serif;fill:#e8e8f0" font-size="1.7" opacity="0.9">0.05</text>
<text x="338.65" y="112.30" style="font-family:'Liberation Sans', sans-serif;fill:#e8e8f0" font-size="1.7" opacity="0.9">0.05</text>
<circle cx="324.3" cy="89.8" r="10.3" fill="#aebbe0" opacity="0.28"/>
<circle cx="315.45" cy="86.74" r="0.64" fill="#d4dcf2" opacity="0.55"/>
<circle cx="326.21" cy="92.40" r="0.81" fill="#d4dcf2" opacity="0.55"/>
<circle cx="330.54" cy="83.87" r="0.78" fill="#b9c6ea" opacity="0.55"/>
<circle cx="317.88" cy="87.14" r="0.68" fill="#d4dcf2" opacity="0.55"/>
<circle cx="326.55" cy="95.10" r="0.54" fill="#d4dcf2" opacity="0.55"/>
<circle cx="322.77" cy="95.63" r="0.88" fill="#9fb0e0" opacity="0.55"/>
<circle cx="324.97" cy="86.59" r="0.57" fill="#9fb0e0" opacity="0.55"/>
<circle cx="324.63" cy="88.39" r="0.85" fill="#d4dcf2" opacity="0.55"/>
<circle cx="316.99" cy="89.67" r="0.89" fill="#b9c6ea" opacity="0.55"/>
<circle cx="324.04" cy="88.52" r="0.89" fill="#b9c6ea" opacity="0.55"/>
<circle cx="327.66" cy="90.16" r="0.68" fill="#9fb0e0" opacity="0.55"/>
<circle cx="328.14" cy="97.53" r="0.69" fill="#d4dcf2" opacity="0.55"/>
<circle cx="318.23" cy="83.76" r="0.57" fill="#b9c6ea" opacity="0.55"/>
<circle cx="330.99" cy="87.66" r="0.83" fill="#d4dcf2" opacity="0.55"/>
<circle cx="326.29" cy="94.77" r="0.70" fill="#b9c6ea" opacity="0.55"/>
<circle cx="329.52" cy="96.22" r="0.89" fill="#d4dcf2" opacity="0.55"/>
<circle cx="331.25" cy="96.26" r="0.66" fill="#9fb0e0" opacity="0.55"/>
<circle cx="319.12" cy="88.13" r="0.63" fill="#d4dcf2" opacity="0.55"/>
<circle cx="319.14" cy="83.32" r="0.62" fill="#b9c6ea" opacity="0.55"/>
<circle cx="327.68" cy="84.84" r="0.74" fill="#b9c6ea" opacity="0.55"/>
<circle cx="324.28" cy="91.76" r="0.57" fill="#b9c6ea" opacity="0.55"/>
<circle cx="330.39" cy="87.47" r="0.61" fill="#d4dcf2" opacity="0.55"/>
<circle cx="318.54" cy="91.94" r="0.59" fill="#9fb0e0" opacity="0.55"/>
<circle cx="330.62" cy="85.14" r="0.72" fill="#9fb0e0" opacity="0.55"/>
<circle cx="318.45" cy="89.93" r="0.74" fill="#9fb0e0" opacity="0.55"/>
<circle cx="327.51" cy="85.10" r="0.59" fill="#b9c6ea" opacity="0.55"/>
<circle cx="331.33" cy="91.29" r="0.68" fill="#9fb0e0" opacity="0.55"/>
<circle cx="324.26" cy="88.65" r="0.73" fill="#b9c6ea" opacity="0.55"/>
<circle cx="329.69" cy="96.30" r="0.87" fill="#b9c6ea" opacity="0.55"/>
<circle cx="330.66" cy="95.60" r="0.67" fill="#9fb0e0" opacity="0.55"/>
<circle cx="319.98" cy="86.03" r="0.65" fill="#d4dcf2" opacity="0.55"/>
<circle cx="327.85" cy="87.24" r="0.55" fill="#9fb0e0" opacity="0.55"/>
<circle cx="316.49" cy="90.22" r="0.59" fill="#b9c6ea" opacity="0.55"/>
<circle cx="328.05" cy="91.09" r="0.87" fill="#d4dcf2" opacity="0.55"/>
<circle cx="323.40" cy="83.52" r="0.56" fill="#b9c6ea" opacity="0.55"/>
<circle cx="320.70" cy="83.30" r="0.62" fill="#b9c6ea" opacity="0.55"/>
<circle cx="319.58" cy="82.31" r="0.76" fill="#9fb0e0" opacity="0.55"/>
<circle cx="321.97" cy="96.51" r="0.73" fill="#d4dcf2" opacity="0.55"/>
<circle cx="321.46" cy="84.49" r="0.65" fill="#b9c6ea" opacity="0.55"/>
<circle cx="329.64" cy="95.63" r="0.89" fill="#b9c6ea" opacity="0.55"/>
<path d="M315.5,86.5 L319.5,84 L320,88.5Z" fill="#d94fa0" opacity="0.8"/>
<circle cx="318.6" cy="90" r="2.7" fill="#8e1a24"/>
<circle cx="323.4" cy="88.3" r="2.8" fill="#d9533a"/>
<circle cx="322.8" cy="87.5" r="1" fill="#ef8a6a" opacity="0.8"/>
<circle cx="323.2" cy="93.8" r="2.1" fill="#efc2a4"/>
<circle cx="325.4" cy="95.9" r="1.6" fill="#f3e6dc"/>
<circle cx="328.6" cy="88.6" r="1.5" fill="#eef0f6"/>
<circle cx="326.8" cy="91.3" r="1.3" fill="#f1d3bd"/>
<circle cx="328" cy="92.7" r="0.6" fill="#4fb04a"/>
<circle cx="329.3" cy="94.5" r="0.6" fill="#4fb04a"/>
<circle cx="326.5" cy="97.5" r="0.6" fill="#4fb04a"/>
<circle cx="321" cy="96.5" r="0.6" fill="#4fb04a"/>
<text x="350.50" y="71.30" style="font-family:'Liberation Sans', sans-serif;fill:#e8e8f0" font-size="1.7" opacity="0.85">Time: 14.000000</text>
<rect x="357.40" y="101.00" width="1.2" height="13.4" fill="url(#gBar)"/>
<text x="359.40" y="102.00" style="font-family:'Liberation Sans', sans-serif;fill:#e8e8f0" font-size="1.5" opacity="0.85">2.0e-01</text>
<text x="359.40" y="105.10" style="font-family:'Liberation Sans', sans-serif;fill:#e8e8f0" font-size="1.5" opacity="0.85">0.15</text>
<text x="359.40" y="108.20" style="font-family:'Liberation Sans', sans-serif;fill:#e8e8f0" font-size="1.5" opacity="0.85">0.1</text>
<text x="359.40" y="111.30" style="font-family:'Liberation Sans', sans-serif;fill:#e8e8f0" font-size="1.5" opacity="0.85">0.05</text>
<text x="359.40" y="114.40" style="font-family:'Liberation Sans', sans-serif;fill:#e8e8f0" font-size="1.5" opacity="0.85">0.0e+00</text>
<text transform="translate(366.40,111.00) rotate(-90)" style="font-family:'Liberation Sans', sans-serif;fill:#e8e8f0" font-size="1.5" opacity="0.8">Velocity</text>
<path d="M298.2,111.8 L298.2,103.2" stroke="#c9a14e" stroke-width="0.7"/>
<path d="M298.2,111.8 L290.2,111.8" stroke="#c03a4a" stroke-width="0.5"/>
<rect x="298.0" y="111.2" width="2.6" height="1.4" fill="#58b04a"/>
<text x="289.2" y="110.2" font-size="2" style="font-family:'Liberation Sans', sans-serif;fill:#d62b3a">X</text>
<text x="297.5" y="102.8" font-size="2" style="font-family:'Liberation Sans', sans-serif;fill:#d9a94a">Y</text>
<rect x="76.2" y="124.3" width="91.6" height="46.6" fill="#3b4058"/>
<rect x="77.0" y="124.8" width="90.6" height="45.300000000000004" fill="url(#gPanel)"/>
<path d="M122.20,127.20 L144.60,147.80 L122.20,169.60 L101.80,147.20Z" fill="url(#gDia)"/>
<path d="M122.20,125.80 L122.20,170.60" stroke="#d4d4dc" stroke-width="0.3" opacity="0.7"/>
<text x="100.34" y="144.00" style="font-family:'Liberation Sans', sans-serif;fill:#e8e8f0" font-size="1.7" opacity="0.9">0.01</text>
<text x="125.94" y="128.06" style="font-family:'Liberation Sans', sans-serif;fill:#e8e8f0" font-size="1.7" opacity="0.9">0.01</text>
<text x="99.84" y="151.44" style="font-family:'Liberation Sans', sans-serif;fill:#e8e8f0" font-size="1.7" opacity="0.9">0.01</text>
<text x="125.94" y="169.42" style="font-family:'Liberation Sans', sans-serif;fill:#e8e8f0" font-size="1.7" opacity="0.9">0.01</text>
<text x="104.42" y="140.00" style="font-family:'Liberation Sans', sans-serif;fill:#e8e8f0" font-size="1.7" opacity="0.9">0.02</text>
<text x="130.42" y="132.18" style="font-family:'Liberation Sans', sans-serif;fill:#e8e8f0" font-size="1.7" opacity="0.9">0.02</text>
<text x="103.92" y="155.92" style="font-family:'Liberation Sans', sans-serif;fill:#e8e8f0" font-size="1.7" opacity="0.9">0.02</text>
<text x="130.42" y="165.06" style="font-family:'Liberation Sans', sans-serif;fill:#e8e8f0" font-size="1.7" opacity="0.9">0.02</text>
<text x="108.50" y="136.00" style="font-family:'Liberation Sans', sans-serif;fill:#e8e8f0" font-size="1.7" opacity="0.9">0.03</text>
<text x="134.90" y="136.30" style="font-family:'Liberation Sans', sans-serif;fill:#e8e8f0" font-size="1.7" opacity="0.9">0.03</text>
<text x="108.00" y="160.40" style="font-family:'Liberation Sans', sans-serif;fill:#e8e8f0" font-size="1.7" opacity="0.9">0.03</text>
<text x="134.90" y="160.70" style="font-family:'Liberation Sans', sans-serif;fill:#e8e8f0" font-size="1.7" opacity="0.9">0.03</text>
<text x="112.58" y="132.00" style="font-family:'Liberation Sans', sans-serif;fill:#e8e8f0" font-size="1.7" opacity="0.9">0.04</text>
<text x="139.38" y="140.42" style="font-family:'Liberation Sans', sans-serif;fill:#e8e8f0" font-size="1.7" opacity="0.9">0.04</text>
<text x="112.08" y="164.88" style="font-family:'Liberation Sans', sans-serif;fill:#e8e8f0" font-size="1.7" opacity="0.9">0.04</text>
<text x="139.38" y="156.34" style="font-family:'Liberation Sans', sans-serif;fill:#e8e8f0" font-size="1.7" opacity="0.9">0.04</text>
<text x="116.66" y="128.00" style="font-family:'Liberation Sans', sans-serif;fill:#e8e8f0" font-size="1.7" opacity="0.9">0.05</text>
<text x="143.86" y="144.54" style="font-family:'Liberation Sans', sans-serif;fill:#e8e8f0" font-size="1.7" opacity="0.9">0.05</text>
<text x="116.16" y="169.36" style="font-family:'Liberation Sans', sans-serif;fill:#e8e8f0" font-size="1.7" opacity="0.9">0.05</text>
<text x="143.86" y="151.98" style="font-family:'Liberation Sans', sans-serif;fill:#e8e8f0" font-size="1.7" opacity="0.9">0.05</text>
<ellipse cx="122.4" cy="146.8" rx="8" ry="7.6" fill="#4f77c6"/>
<circle cx="124.56" cy="147.80" r="0.55" fill="#2b4ea8" opacity="1"/>
<circle cx="115.51" cy="145.37" r="0.65" fill="#5a86d6" opacity="1"/>
<circle cx="127.08" cy="145.99" r="0.74" fill="#2b4ea8" opacity="1"/>
<circle cx="122.08" cy="143.20" r="0.93" fill="#3a63bb" opacity="1"/>
<circle cx="118.12" cy="142.56" r="0.71" fill="#5a86d6" opacity="1"/>
<circle cx="118.69" cy="146.27" r="0.83" fill="#2b4ea8" opacity="1"/>
<circle cx="127.19" cy="152.10" r="0.84" fill="#2b4ea8" opacity="1"/>
<circle cx="116.94" cy="143.36" r="0.93" fill="#3a63bb" opacity="1"/>
<circle cx="122.16" cy="140.92" r="0.52" fill="#8fb0e6" opacity="1"/>
<circle cx="121.77" cy="143.45" r="0.90" fill="#2b4ea8" opacity="1"/>
<circle cx="130.02" cy="148.02" r="0.58" fill="#3a63bb" opacity="1"/>
<circle cx="127.53" cy="148.82" r="0.81" fill="#8fb0e6" opacity="1"/>
<circle cx="114.96" cy="144.66" r="0.65" fill="#3a63bb" opacity="1"/>
<circle cx="120.89" cy="142.39" r="0.64" fill="#8fb0e6" opacity="1"/>
<circle cx="122.32" cy="150.08" r="0.54" fill="#3a63bb" opacity="1"/>
<circle cx="125.17" cy="152.78" r="0.98" fill="#5a86d6" opacity="1"/>
<circle cx="122.19" cy="146.44" r="0.73" fill="#8fb0e6" opacity="1"/>
<circle cx="122.21" cy="146.72" r="0.99" fill="#3a63bb" opacity="1"/>
<circle cx="116.95" cy="143.71" r="0.74" fill="#5a86d6" opacity="1"/>
<circle cx="123.38" cy="151.71" r="0.55" fill="#5a86d6" opacity="1"/>
<circle cx="128.86" cy="144.81" r="0.53" fill="#3a63bb" opacity="1"/>
<circle cx="119.91" cy="152.47" r="0.57" fill="#2b4ea8" opacity="1"/>
<circle cx="116.97" cy="148.76" r="0.77" fill="#2b4ea8" opacity="1"/>
<circle cx="115.43" cy="149.97" r="0.84" fill="#3a63bb" opacity="1"/>
<circle cx="117.02" cy="147.75" r="0.97" fill="#3a63bb" opacity="1"/>
<circle cx="119.98" cy="149.61" r="0.57" fill="#3a63bb" opacity="1"/>
<circle cx="117.12" cy="149.55" r="0.87" fill="#8fb0e6" opacity="1"/>
<circle cx="123.81" cy="142.14" r="0.53" fill="#2b4ea8" opacity="1"/>
<circle cx="128.87" cy="150.93" r="0.97" fill="#3a63bb" opacity="1"/>
<circle cx="117.96" cy="152.18" r="0.89" fill="#3a63bb" opacity="1"/>
<circle cx="123.41" cy="152.71" r="0.89" fill="#5a86d6" opacity="1"/>
<circle cx="122.54" cy="152.81" r="0.87" fill="#8fb0e6" opacity="1"/>
<circle cx="122.26" cy="148.57" r="0.73" fill="#2b4ea8" opacity="1"/>
<circle cx="122.55" cy="139.70" r="0.91" fill="#3a63bb" opacity="1"/>
<circle cx="118.72" cy="147.20" r="0.75" fill="#8fb0e6" opacity="1"/>
<circle cx="122.82" cy="150.29" r="0.88" fill="#2b4ea8" opacity="1"/>
<circle cx="124.55" cy="141.39" r="0.84" fill="#8fb0e6" opacity="1"/>
<circle cx="125.24" cy="144.12" r="0.89" fill="#3a63bb" opacity="1"/>
<circle cx="129.65" cy="145.86" r="0.54" fill="#8fb0e6" opacity="1"/>
<circle cx="124.81" cy="148.32" r="1.00" fill="#8fb0e6" opacity="1"/>
<circle cx="121.53" cy="153.35" r="0.65" fill="#2b4ea8" opacity="1"/>
<circle cx="128.34" cy="142.83" r="0.52" fill="#8fb0e6" opacity="1"/>
<circle cx="120.73" cy="141.83" r="0.60" fill="#3a63bb" opacity="1"/>
<circle cx="119.96" cy="143.03" r="0.87" fill="#8fb0e6" opacity="1"/>
<circle cx="121.65" cy="145.73" r="0.89" fill="#9fb070" opacity="1"/>
<circle cx="119.43" cy="143.83" r="0.72" fill="#9fb070" opacity="1"/>
<circle cx="124.11" cy="151.20" r="0.57" fill="#dcd76a" opacity="1"/>
<circle cx="123.10" cy="151.35" r="0.53" fill="#9fb070" opacity="1"/>
<circle cx="120.40" cy="150.91" r="0.66" fill="#dcd76a" opacity="1"/>
<circle cx="126.68" cy="145.09" r="0.60" fill="#9fb070" opacity="1"/>
<circle cx="124.32" cy="144.93" r="0.59" fill="#b9bf55" opacity="1"/>
<circle cx="124.21" cy="148.09" r="0.67" fill="#b9bf55" opacity="1"/>
<circle cx="125.51" cy="147.61" r="0.87" fill="#dcd76a" opacity="1"/>
<circle cx="120.22" cy="146.53" r="0.61" fill="#b9bf55" opacity="1"/>
<circle cx="121.29" cy="147.87" r="0.81" fill="#c9c84a" opacity="1"/>
<circle cx="119.05" cy="149.62" r="0.86" fill="#c9c84a" opacity="1"/>
<circle cx="125.95" cy="144.38" r="0.53" fill="#b9bf55" opacity="1"/>
<circle cx="123.24" cy="144.57" r="0.60" fill="#b9bf55" opacity="1"/>
<circle cx="118.26" cy="146.48" r="0.88" fill="#dcd76a" opacity="1"/>
<circle cx="122.02" cy="145.69" r="0.70" fill="#9fb070" opacity="1"/>
<circle cx="124.30" cy="146.66" r="0.85" fill="#dcd76a" opacity="1"/>
<circle cx="123.98" cy="142.39" r="0.53" fill="#b9bf55" opacity="1"/>
<circle cx="119.93" cy="147.65" r="0.53" fill="#9fb070" opacity="1"/>
<circle cx="124.97" cy="146.69" r="0.63" fill="#b9bf55" opacity="1"/>
<circle cx="126.08" cy="144.00" r="0.83" fill="#c9c84a" opacity="1"/>
<circle cx="126.64" cy="149.45" r="0.61" fill="#b9bf55" opacity="1"/>
<circle cx="124.24" cy="149.50" r="0.78" fill="#c9c84a" opacity="1"/>
<circle cx="125.25" cy="144.31" r="0.51" fill="#dcd76a" opacity="1"/>
<circle cx="126.84" cy="146.61" r="0.74" fill="#c9c84a" opacity="1"/>
<circle cx="122.34" cy="145.46" r="0.71" fill="#c9c84a" opacity="1"/>
<circle cx="121.22" cy="143.11" r="0.61" fill="#c9c84a" opacity="1"/>
<circle cx="122.63" cy="145.97" r="0.74" fill="#dcd76a" opacity="1"/>
<circle cx="122.32" cy="143.07" r="0.89" fill="#c9c84a" opacity="1"/>
<circle cx="125.00" cy="149.49" r="0.55" fill="#dcd76a" opacity="1"/>
<circle cx="125.15" cy="145.80" r="0.57" fill="#b9bf55" opacity="1"/>
<circle cx="126.15" cy="148.08" r="0.61" fill="#dcd76a" opacity="1"/>
<circle cx="120.75" cy="149.73" r="0.73" fill="#9fb070" opacity="1"/>
<circle cx="119.86" cy="146.09" r="0.59" fill="#c9c84a" opacity="1"/>
<circle cx="119.47" cy="143.65" r="0.56" fill="#dcd76a" opacity="1"/>
<circle cx="120.76" cy="149.02" r="0.89" fill="#dcd76a" opacity="1"/>
<circle cx="119.88" cy="144.70" r="0.62" fill="#9fb070" opacity="1"/>
<circle cx="119.94" cy="147.34" r="0.56" fill="#9fb070" opacity="1"/>
<circle cx="118.53" cy="146.06" r="0.87" fill="#9fb070" opacity="1"/>
<circle cx="125.07" cy="143.65" r="0.75" fill="#c9c84a" opacity="1"/>
<text x="146.80" y="126.50" style="font-family:'Liberation Sans', sans-serif;fill:#e8e8f0" font-size="1.7" opacity="0.85">Time: 0.000000</text>
<rect x="153.70" y="155.50" width="1.2" height="13.4" fill="url(#gBar)"/>
<text x="155.70" y="156.50" style="font-family:'Liberation Sans', sans-serif;fill:#e8e8f0" font-size="1.5" opacity="0.85">2.0e-01</text>
<text x="155.70" y="159.60" style="font-family:'Liberation Sans', sans-serif;fill:#e8e8f0" font-size="1.5" opacity="0.85">0.15</text>
<text x="155.70" y="162.70" style="font-family:'Liberation Sans', sans-serif;fill:#e8e8f0" font-size="1.5" opacity="0.85">0.1</text>
<text x="155.70" y="165.80" style="font-family:'Liberation Sans', sans-serif;fill:#e8e8f0" font-size="1.5" opacity="0.85">0.05</text>
<text x="155.70" y="168.90" style="font-family:'Liberation Sans', sans-serif;fill:#e8e8f0" font-size="1.5" opacity="0.85">0.0e+00</text>
<text transform="translate(162.70,165.50) rotate(-90)" style="font-family:'Liberation Sans', sans-serif;fill:#e8e8f0" font-size="1.5" opacity="0.8">Velocity</text>
<path d="M92.5,164.5 L91.3,159.7" stroke="#58b04a" stroke-width="0.6"/>
<path d="M92.5,164.5 L86.5,169.5" stroke="#c03a4a" stroke-width="0.6"/>
<path d="M92.5,164.5 L96.7,168.8" stroke="#d9a94a" stroke-width="0.6"/>
<text x="90.5" y="159.5" font-size="2" style="font-family:'Liberation Sans', sans-serif;fill:#58d04a">Z</text>
<text x="84.2" y="169.7" font-size="2" style="font-family:'Liberation Sans', sans-serif;fill:#d62b3a">X</text>
<text x="97.1" y="170.1" font-size="2" style="font-family:'Liberation Sans', sans-serif;fill:#e9b94a">Y</text>
<rect x="178.3" y="124.3" width="92.5" height="46.6" fill="#3b4058"/>
<rect x="179.10000000000002" y="124.8" width="91.5" height="45.300000000000004" fill="url(#gPanel)"/>
<path d="M224.90,128.00 L244.60,149.60 L224.90,169.80 L203.80,147.80Z" fill="url(#gDia)"/>
<path d="M224.90,125.80 L224.90,170.80" stroke="#d4d4dc" stroke-width="0.3" opacity="0.7"/>
<text x="202.41" y="144.62" style="font-family:'Liberation Sans', sans-serif;fill:#e8e8f0" font-size="1.7" opacity="0.9">0.01</text>
<text x="228.37" y="128.96" style="font-family:'Liberation Sans', sans-serif;fill:#e8e8f0" font-size="1.7" opacity="0.9">0.01</text>
<text x="201.91" y="152.00" style="font-family:'Liberation Sans', sans-serif;fill:#e8e8f0" font-size="1.7" opacity="0.9">0.01</text>
<text x="228.37" y="169.78" style="font-family:'Liberation Sans', sans-serif;fill:#e8e8f0" font-size="1.7" opacity="0.9">0.01</text>
<text x="206.63" y="140.66" style="font-family:'Liberation Sans', sans-serif;fill:#e8e8f0" font-size="1.7" opacity="0.9">0.02</text>
<text x="232.31" y="133.28" style="font-family:'Liberation Sans', sans-serif;fill:#e8e8f0" font-size="1.7" opacity="0.9">0.02</text>
<text x="206.13" y="156.40" style="font-family:'Liberation Sans', sans-serif;fill:#e8e8f0" font-size="1.7" opacity="0.9">0.02</text>
<text x="232.31" y="165.74" style="font-family:'Liberation Sans', sans-serif;fill:#e8e8f0" font-size="1.7" opacity="0.9">0.02</text>
<text x="210.85" y="136.70" style="font-family:'Liberation Sans', sans-serif;fill:#e8e8f0" font-size="1.7" opacity="0.9">0.03</text>
<text x="236.25" y="137.60" style="font-family:'Liberation Sans', sans-serif;fill:#e8e8f0" font-size="1.7" opacity="0.9">0.03</text>
<text x="210.35" y="160.80" style="font-family:'Liberation Sans', sans-serif;fill:#e8e8f0" font-size="1.7" opacity="0.9">0.03</text>
<text x="236.25" y="161.70" style="font-family:'Liberation Sans', sans-serif;fill:#e8e8f0" font-size="1.7" opacity="0.9">0.03</text>
<text x="215.07" y="132.74" style="font-family:'Liberation Sans', sans-serif;fill:#e8e8f0" font-size="1.7" opacity="0.9">0.04</text>
<text x="240.19" y="141.92" style="font-family:'Liberation Sans', sans-serif;fill:#e8e8f0" font-size="1.7" opacity="0.9">0.04</text>
<text x="214.57" y="165.20" style="font-family:'Liberation Sans', sans-serif;fill:#e8e8f0" font-size="1.7" opacity="0.9">0.04</text>
<text x="240.19" y="157.66" style="font-family:'Liberation Sans', sans-serif;fill:#e8e8f0" font-size="1.7" opacity="0.9">0.04</text>
<text x="219.29" y="128.78" style="font-family:'Liberation Sans', sans-serif;fill:#e8e8f0" font-size="1.7" opacity="0.9">0.05</text>
<text x="244.13" y="146.24" style="font-family:'Liberation Sans', sans-serif;fill:#e8e8f0" font-size="1.7" opacity="0.9">0.05</text>
<text x="218.79" y="169.60" style="font-family:'Liberation Sans', sans-serif;fill:#e8e8f0" font-size="1.7" opacity="0.9">0.05</text>
<text x="244.13" y="153.62" style="font-family:'Liberation Sans', sans-serif;fill:#e8e8f0" font-size="1.7" opacity="0.9">0.05</text>
<ellipse cx="224.9" cy="145.7" rx="6.4" ry="8.4" fill="#4f77c6"/>
<circle cx="226.81" cy="144.38" r="0.79" fill="#5a86d6" opacity="1"/>
<circle cx="226.86" cy="148.17" r="0.95" fill="#5a86d6" opacity="1"/>
<circle cx="224.32" cy="148.94" r="0.86" fill="#3a63bb" opacity="1"/>
<circle cx="226.49" cy="147.45" r="0.99" fill="#5a86d6" opacity="1"/>
<circle cx="220.78" cy="140.09" r="0.55" fill="#c9d4f0" opacity="1"/>
<circle cx="228.62" cy="143.81" r="0.52" fill="#5a86d6" opacity="1"/>
<circle cx="220.57" cy="143.67" r="0.88" fill="#3a63bb" opacity="1"/>
<circle cx="221.67" cy="146.52" r="0.88" fill="#5a86d6" opacity="1"/>
<circle cx="222.76" cy="140.82" r="0.96" fill="#c9d4f0" opacity="1"/>
<circle cx="221.68" cy="145.95" r="0.56" fill="#3a63bb" opacity="1"/>
<circle cx="226.73" cy="142.62" r="0.63" fill="#3a63bb" opacity="1"/>
<circle cx="222.57" cy="149.25" r="0.85" fill="#c9d4f0" opacity="1"/>
<circle cx="221.44" cy="144.97" r="0.65" fill="#3a63bb" opacity="1"/>
<circle cx="224.23" cy="141.69" r="0.93" fill="#8fb0e6" opacity="1"/>
<circle cx="222.13" cy="139.62" r="0.80" fill="#c9d4f0" opacity="1"/>
<circle cx="225.22" cy="143.62" r="0.84" fill="#2b4ea8" opacity="1"/>
<circle cx="224.72" cy="150.62" r="0.93" fill="#8fb0e6" opacity="1"/>
<circle cx="225.24" cy="151.33" r="0.74" fill="#c9d4f0" opacity="1"/>
<circle cx="226.55" cy="146.08" r="0.75" fill="#5a86d6" opacity="1"/>
<circle cx="222.09" cy="144.83" r="0.94" fill="#3a63bb" opacity="1"/>
<circle cx="224.70" cy="148.48" r="0.74" fill="#c9d4f0" opacity="1"/>
<circle cx="222.30" cy="143.36" r="0.79" fill="#5a86d6" opacity="1"/>
<circle cx="230.00" cy="142.95" r="0.74" fill="#c9d4f0" opacity="1"/>
<circle cx="222.46" cy="141.04" r="0.64" fill="#2b4ea8" opacity="1"/>
<circle cx="226.39" cy="147.76" r="0.92" fill="#3a63bb" opacity="1"/>
<circle cx="230.07" cy="146.76" r="0.57" fill="#5a86d6" opacity="1"/>
<circle cx="220.91" cy="145.15" r="0.54" fill="#5a86d6" opacity="1"/>
<circle cx="229.53" cy="149.02" r="0.51" fill="#c9d4f0" opacity="1"/>
<circle cx="228.17" cy="145.77" r="0.75" fill="#2b4ea8" opacity="1"/>
<circle cx="224.48" cy="141.54" r="0.55" fill="#2b4ea8" opacity="1"/>
<circle cx="226.69" cy="148.10" r="0.85" fill="#c9d4f0" opacity="1"/>
<circle cx="224.86" cy="149.82" r="0.96" fill="#c9d4f0" opacity="1"/>
<circle cx="229.89" cy="145.05" r="0.68" fill="#8fb0e6" opacity="1"/>
<circle cx="227.72" cy="141.14" r="0.98" fill="#8fb0e6" opacity="1"/>
<circle cx="228.49" cy="150.57" r="0.51" fill="#3a63bb" opacity="1"/>
<circle cx="225.89" cy="146.06" r="0.84" fill="#8fb0e6" opacity="1"/>
<circle cx="229.4" cy="133.3" r="2" fill="#e9a987"/>
<circle cx="232.7" cy="138.9" r="1.6" fill="#efb896"/>
<circle cx="226.5" cy="140.6" r="3.2" fill="#9a1420"/>
<circle cx="225.8" cy="139.8" r="1" fill="#c93a3f" opacity="0.7"/>
<circle cx="226.9" cy="146.7" r="1.3" fill="#efc6a4"/>
<circle cx="222.5" cy="147.5" r="1.1" fill="#f1d3bd"/>
<circle cx="220.3" cy="148.4" r="0.9" fill="#9a3fb0"/>
<text x="249.80" y="126.50" style="font-family:'Liberation Sans', sans-serif;fill:#e8e8f0" font-size="1.7" opacity="0.85">Time: 10.000000</text>
<rect x="256.70" y="155.50" width="1.2" height="13.4" fill="url(#gBar)"/>
<text x="258.70" y="156.50" style="font-family:'Liberation Sans', sans-serif;fill:#e8e8f0" font-size="1.5" opacity="0.85">2.0e-01</text>
<text x="258.70" y="159.60" style="font-family:'Liberation Sans', sans-serif;fill:#e8e8f0" font-size="1.5" opacity="0.85">0.15</text>
<text x="258.70" y="162.70" style="font-family:'Liberation Sans', sans-serif;fill:#e8e8f0" font-size="1.5" opacity="0.85">0.1</text>
<text x="258.70" y="165.80" style="font-family:'Liberation Sans', sans-serif;fill:#e8e8f0" font-size="1.5" opacity="0.85">0.05</text>
<text x="258.70" y="168.90" style="font-family:'Liberation Sans', sans-serif;fill:#e8e8f0" font-size="1.5" opacity="0.85">0.0e+00</text>
<text transform="translate(265.70,165.50) rotate(-90)" style="font-family:'Liberation Sans', sans-serif;fill:#e8e8f0" font-size="1.5" opacity="0.8">Velocity</text>
<path d="M194.60000000000002,164.5 L193.40000000000003,159.7" stroke="#58b04a" stroke-width="0.6"/>
<path d="M194.60000000000002,164.5 L188.60000000000002,169.5" stroke="#c03a4a" stroke-width="0.6"/>
<path d="M194.60000000000002,164.5 L198.8,168.8" stroke="#d9a94a" stroke-width="0.6"/>
<text x="192.60000000000002" y="159.5" font-size="2" style="font-family:'Liberation Sans', sans-serif;fill:#58d04a">Z</text>
<text x="186.3" y="169.7" font-size="2" style="font-family:'Liberation Sans', sans-serif;fill:#d62b3a">X</text>
<text x="199.20000000000002" y="170.1" font-size="2" style="font-family:'Liberation Sans', sans-serif;fill:#e9b94a">Y</text>
<rect x="279.5" y="124.3" width="92" height="46.6" fill="#3b4058"/>
<rect x="280.3" y="124.8" width="91.0" height="45.300000000000004" fill="url(#gPanel)"/>
<path d="M324.70,133.10 L342.80,147.80 L324.70,164.00 L307.50,147.20Z" fill="#9697a3"/>
<path d="M324.70,125.80 L324.70,165.00" stroke="#d4d4dc" stroke-width="0.3" opacity="0.7"/>
<text x="305.72" y="144.59" style="font-family:'Liberation Sans', sans-serif;fill:#e8e8f0" font-size="1.7" opacity="0.9">0.01</text>
<text x="328.01" y="133.37" style="font-family:'Liberation Sans', sans-serif;fill:#e8e8f0" font-size="1.7" opacity="0.9">0.01</text>
<text x="305.22" y="150.88" style="font-family:'Liberation Sans', sans-serif;fill:#e8e8f0" font-size="1.7" opacity="0.9">0.01</text>
<text x="328.01" y="164.38" style="font-family:'Liberation Sans', sans-serif;fill:#e8e8f0" font-size="1.7" opacity="0.9">0.01</text>
<text x="309.16" y="141.77" style="font-family:'Liberation Sans', sans-serif;fill:#e8e8f0" font-size="1.7" opacity="0.9">0.02</text>
<text x="331.63" y="136.31" style="font-family:'Liberation Sans', sans-serif;fill:#e8e8f0" font-size="1.7" opacity="0.9">0.02</text>
<text x="308.66" y="154.24" style="font-family:'Liberation Sans', sans-serif;fill:#e8e8f0" font-size="1.7" opacity="0.9">0.02</text>
<text x="331.63" y="161.14" style="font-family:'Liberation Sans', sans-serif;fill:#e8e8f0" font-size="1.7" opacity="0.9">0.02</text>
<text x="312.60" y="138.95" style="font-family:'Liberation Sans', sans-serif;fill:#e8e8f0" font-size="1.7" opacity="0.9">0.03</text>
<text x="335.25" y="139.25" style="font-family:'Liberation Sans', sans-serif;fill:#e8e8f0" font-size="1.7" opacity="0.9">0.03</text>
<text x="312.10" y="157.60" style="font-family:'Liberation Sans', sans-serif;fill:#e8e8f0" font-size="1.7" opacity="0.9">0.03</text>
<text x="335.25" y="157.90" style="font-family:'Liberation Sans', sans-serif;fill:#e8e8f0" font-size="1.7" opacity="0.9">0.03</text>
<text x="316.04" y="136.13" style="font-family:'Liberation Sans', sans-serif;fill:#e8e8f0" font-size="1.7" opacity="0.9">0.04</text>
<text x="338.87" y="142.19" style="font-family:'Liberation Sans', sans-serif;fill:#e8e8f0" font-size="1.7" opacity="0.9">0.04</text>
<text x="315.54" y="160.96" style="font-family:'Liberation Sans', sans-serif;fill:#e8e8f0" font-size="1.7" opacity="0.9">0.04</text>
<text x="338.87" y="154.66" style="font-family:'Liberation Sans', sans-serif;fill:#e8e8f0" font-size="1.7" opacity="0.9">0.04</text>
<text x="319.48" y="133.31" style="font-family:'Liberation Sans', sans-serif;fill:#e8e8f0" font-size="1.7" opacity="0.9">0.05</text>
<text x="342.49" y="145.13" style="font-family:'Liberation Sans', sans-serif;fill:#e8e8f0" font-size="1.7" opacity="0.9">0.05</text>
<text x="318.98" y="164.32" style="font-family:'Liberation Sans', sans-serif;fill:#e8e8f0" font-size="1.7" opacity="0.9">0.05</text>
<text x="342.49" y="151.42" style="font-family:'Liberation Sans', sans-serif;fill:#e8e8f0" font-size="1.7" opacity="0.9">0.05</text>
<circle cx="326.4" cy="147.8" r="7.7" fill="#4163b4"/>
<circle cx="320.59" cy="145.76" r="1.03" fill="#5a86d6" opacity="1"/>
<circle cx="327.05" cy="151.20" r="1.22" fill="#2b4ea8" opacity="1"/>
<circle cx="321.39" cy="151.69" r="0.88" fill="#1f3580" opacity="1"/>
<circle cx="326.30" cy="148.23" r="1.29" fill="#3a63bb" opacity="1"/>
<circle cx="331.57" cy="144.50" r="1.29" fill="#5a86d6" opacity="1"/>
<circle cx="325.62" cy="152.12" r="0.90" fill="#2b4ea8" opacity="1"/>
<circle cx="320.88" cy="146.98" r="1.22" fill="#3a63bb" opacity="1"/>
<circle cx="328.08" cy="147.36" r="0.96" fill="#203a88" opacity="1"/>
<circle cx="321.04" cy="147.47" r="0.75" fill="#1f3580" opacity="1"/>
<circle cx="325.20" cy="153.08" r="0.97" fill="#203a88" opacity="1"/>
<circle cx="329.64" cy="142.99" r="1.20" fill="#5a86d6" opacity="1"/>
<circle cx="330.91" cy="145.48" r="0.86" fill="#5a86d6" opacity="1"/>
<circle cx="330.43" cy="152.77" r="1.01" fill="#203a88" opacity="1"/>
<circle cx="325.79" cy="145.51" r="0.93" fill="#2b4ea8" opacity="1"/>
<circle cx="325.03" cy="142.27" r="1.19" fill="#1f3580" opacity="1"/>
<circle cx="326.06" cy="148.35" r="0.85" fill="#5a86d6" opacity="1"/>
<circle cx="331.63" cy="152.02" r="1.26" fill="#3a63bb" opacity="1"/>
<circle cx="323.46" cy="144.21" r="1.25" fill="#203a88" opacity="1"/>
<circle cx="328.89" cy="148.06" r="0.77" fill="#5a86d6" opacity="1"/>
<circle cx="329.82" cy="143.32" r="1.14" fill="#203a88" opacity="1"/>
<circle cx="329.06" cy="150.51" r="1.12" fill="#5a86d6" opacity="1"/>
<circle cx="326.01" cy="149.39" r="0.91" fill="#5a86d6" opacity="1"/>
<circle cx="331.06" cy="150.35" r="0.77" fill="#2b4ea8" opacity="1"/>
<circle cx="330.05" cy="152.12" r="1.06" fill="#1f3580" opacity="1"/>
<circle cx="327.92" cy="146.13" r="0.97" fill="#1f3580" opacity="1"/>
<circle cx="326.67" cy="145.55" r="0.83" fill="#3a63bb" opacity="1"/>
<circle cx="331.18" cy="150.52" r="1.15" fill="#3a63bb" opacity="1"/>
<circle cx="324.77" cy="151.86" r="0.80" fill="#5a86d6" opacity="1"/>
<circle cx="329.81" cy="144.14" r="1.06" fill="#1f3580" opacity="1"/>
<circle cx="332.35" cy="150.72" r="0.89" fill="#2b4ea8" opacity="1"/>
<circle cx="323.11" cy="142.71" r="0.95" fill="#2b4ea8" opacity="1"/>
<circle cx="328.68" cy="143.14" r="1.09" fill="#2b4ea8" opacity="1"/>
<circle cx="332.27" cy="147.37" r="0.93" fill="#1f3580" opacity="1"/>
<circle cx="323.87" cy="142.25" r="1.16" fill="#3a63bb" opacity="1"/>
<circle cx="327.99" cy="143.25" r="0.80" fill="#e6ecfa" opacity="1"/>
<circle cx="327.74" cy="152.69" r="0.73" fill="#e6ecfa" opacity="1"/>
<circle cx="328.99" cy="146.15" r="0.62" fill="#c9d6f4" opacity="1"/>
<circle cx="326.28" cy="141.45" r="0.57" fill="#e6ecfa" opacity="1"/>
<circle cx="330.12" cy="153.17" r="0.83" fill="#c9d6f4" opacity="1"/>
<circle cx="332.52" cy="149.50" r="0.89" fill="#e6ecfa" opacity="1"/>
<circle cx="324.56" cy="146.32" r="0.63" fill="#e6ecfa" opacity="1"/>
<circle cx="324.39" cy="150.19" r="0.52" fill="#e6ecfa" opacity="1"/>
<circle cx="330.74" cy="146.72" r="0.80" fill="#c9d6f4" opacity="1"/>
<circle cx="328.20" cy="144.43" r="0.83" fill="#c9d6f4" opacity="1"/>
<circle cx="331.03" cy="146.91" r="0.75" fill="#e6ecfa" opacity="1"/>
<circle cx="323.24" cy="146.84" r="0.56" fill="#c9d6f4" opacity="1"/>
<circle cx="329.88" cy="145.50" r="0.61" fill="#c9d6f4" opacity="1"/>
<circle cx="323.25" cy="150.66" r="0.87" fill="#e6ecfa" opacity="1"/>
<circle cx="320.6" cy="148.8" r="3" fill="#8e1a24"/>
<circle cx="320" cy="148" r="1" fill="#b93a3f" opacity="0.7"/>
<circle cx="326.6" cy="146.5" r="1.1" fill="#e9a04a"/>
<circle cx="326.2" cy="152.6" r="1.1" fill="#8a3fc0"/>
<text x="350.50" y="126.50" style="font-family:'Liberation Sans', sans-serif;fill:#e8e8f0" font-size="1.7" opacity="0.85">Time: 14.000000</text>
<rect x="357.40" y="155.50" width="1.2" height="13.4" fill="url(#gBar)"/>
<text x="359.40" y="156.50" style="font-family:'Liberation Sans', sans-serif;fill:#e8e8f0" font-size="1.5" opacity="0.85">2.0e-01</text>
<text x="359.40" y="159.60" style="font-family:'Liberation Sans', sans-serif;fill:#e8e8f0" font-size="1.5" opacity="0.85">0.15</text>
<text x="359.40" y="162.70" style="font-family:'Liberation Sans', sans-serif;fill:#e8e8f0" font-size="1.5" opacity="0.85">0.1</text>
<text x="359.40" y="165.80" style="font-family:'Liberation Sans', sans-serif;fill:#e8e8f0" font-size="1.5" opacity="0.85">0.05</text>
<text x="359.40" y="168.90" style="font-family:'Liberation Sans', sans-serif;fill:#e8e8f0" font-size="1.5" opacity="0.85">0.0e+00</text>
<text transform="translate(366.40,165.50) rotate(-90)" style="font-family:'Liberation Sans', sans-serif;fill:#e8e8f0" font-size="1.5" opacity="0.8">Velocity</text>
<path d="M295.8,164.5 L294.6,159.7" stroke="#58b04a" stroke-width="0.6"/>
<path d="M295.8,164.5 L289.8,169.5" stroke="#c03a4a" stroke-width="0.6"/>
<path d="M295.8,164.5 L300.0,168.8" stroke="#d9a94a" stroke-width="0.6"/>
<text x="293.8" y="159.5" font-size="2" style="font-family:'Liberation Sans', sans-serif;fill:#58d04a">Z</text>
<text x="287.5" y="169.7" font-size="2" style="font-family:'Liberation Sans', sans-serif;fill:#d62b3a">X</text>
<text x="300.40000000000003" y="170.1" font-size="2" style="font-family:'Liberation Sans', sans-serif;fill:#e9b94a">Y</text>
<rect x="82" y="180" width="75" height="60" fill="#fff" stroke="#5a5a5a" stroke-width="0.42"/>
<path d="M90,180 L90,240" stroke="#9a9a9a" stroke-width="0.4"/>
<path d="M82,180 L83,180 M157,180 L156,180" stroke="#444" stroke-width="0.35"/>
<text x="80.4" y="181.05" text-anchor="end" font-size="3" style="font-family:'Liberation Sans', sans-serif;fill:#111;stroke:#111;stroke-width:0.07">0.20</text>
<text x="158.8" y="181.05" font-size="3" style="font-family:'Liberation Sans', sans-serif;fill:#111;stroke:#111;stroke-width:0.07">0.20</text>
<path d="M82,195 L83,195 M157,195 L156,195" stroke="#444" stroke-width="0.35"/>
<text x="80.4" y="196.05" text-anchor="end" font-size="3" style="font-family:'Liberation Sans', sans-serif;fill:#111;stroke:#111;stroke-width:0.07">0.15</text>
<text x="158.8" y="196.05" font-size="3" style="font-family:'Liberation Sans', sans-serif;fill:#111;stroke:#111;stroke-width:0.07">0.15</text>
<path d="M82,210 L83,210 M157,210 L156,210" stroke="#444" stroke-width="0.35"/>
<text x="80.4" y="211.05" text-anchor="end" font-size="3" style="font-family:'Liberation Sans', sans-serif;fill:#111;stroke:#111;stroke-width:0.07">0.10</text>
<text x="158.8" y="211.05" font-size="3" style="font-family:'Liberation Sans', sans-serif;fill:#111;stroke:#111;stroke-width:0.07">0.10</text>
<path d="M82,225 L83,225 M157,225 L156,225" stroke="#444" stroke-width="0.35"/>
<text x="80.4" y="226.05" text-anchor="end" font-size="3" style="font-family:'Liberation Sans', sans-serif;fill:#111;stroke:#111;stroke-width:0.07">0.05</text>
<text x="158.8" y="226.05" font-size="3" style="font-family:'Liberation Sans', sans-serif;fill:#111;stroke:#111;stroke-width:0.07">0.05</text>
<path d="M82,240 L83,240 M157,240 L156,240" stroke="#444" stroke-width="0.35"/>
<text x="80.4" y="241.05" text-anchor="end" font-size="3" style="font-family:'Liberation Sans', sans-serif;fill:#111;stroke:#111;stroke-width:0.07">0.00</text>
<text x="158.8" y="241.05" font-size="3" style="font-family:'Liberation Sans', sans-serif;fill:#111;stroke:#111;stroke-width:0.07">0.00</text>
<path d="M82,240 L82,239" stroke="#444" stroke-width="0.35"/>
<text x="82" y="244.6" text-anchor="middle" font-size="3" style="font-family:'Liberation Sans', sans-serif;fill:#111;stroke:#111;stroke-width:0.07">0.0</text>
<path d="M103,240 L103,239" stroke="#444" stroke-width="0.35"/>
<text x="103" y="244.6" text-anchor="middle" font-size="3" style="font-family:'Liberation Sans', sans-serif;fill:#111;stroke:#111;stroke-width:0.07">0.5</text>
<path d="M124,240 L124,239" stroke="#444" stroke-width="0.35"/>
<text x="124" y="244.6" text-anchor="middle" font-size="3" style="font-family:'Liberation Sans', sans-serif;fill:#111;stroke:#111;stroke-width:0.07">1.0</text>
<path d="M145,240 L145,239" stroke="#444" stroke-width="0.35"/>
<text x="145" y="244.6" text-anchor="middle" font-size="3" style="font-family:'Liberation Sans', sans-serif;fill:#111;stroke:#111;stroke-width:0.07">1.5</text>
<text x="119.50" y="249.6" text-anchor="middle" font-size="3.6" style="font-family:'Liberation Sans', sans-serif;fill:#111;stroke:#111;stroke-width:0.07">Time(s)</text>
<text transform="translate(72.20,209.70) rotate(-90)" text-anchor="middle" font-size="3.6" textLength="39.4" lengthAdjust="spacingAndGlyphs" style="font-family:'Liberation Sans', sans-serif;fill:#111;stroke:#111;stroke-width:0.07">Average velocity(cm/s)</text>
<text transform="translate(170.10,210.00) rotate(-90)" text-anchor="middle" font-size="3.6" textLength="37.5" lengthAdjust="spacingAndGlyphs" style="font-family:'Liberation Sans', sans-serif;fill:#111;stroke:#111;stroke-width:0.07">Solid volume fraction ε</text>
<path d="M82.60,240.00 L83.20,214.00 L84.00,191.50 L84.30,189.00 L84.80,190.50 L85.80,198.00 L87.00,205.00 L88.30,210.50 L89.50,213.20 L90.50,214.00 L92.00,214.20 L95.00,213.60 L100.00,213.20 L110.00,213.00 L130.00,213.00 L151.00,213.00" fill="none" stroke="#ec5a62" stroke-width="0.75" stroke-linejoin="round"/>
<path d="M82.60,240.00 L83.20,225.00 L84.00,212.50 L84.40,210.80 L85.00,211.60 L86.00,214.00 L87.50,216.80 L89.00,218.60 L90.30,219.30 L92.00,219.30 L95.00,218.60 L100.00,218.00 L110.00,217.60 L130.00,217.50 L151.00,217.40" fill="none" stroke="#4577cc" stroke-width="0.75" stroke-linejoin="round"/>
<path d="M110,186.8 L116.6,186.8" stroke="#4577cc" stroke-width="0.8"/>
<path d="M110,191.10000000000002 L116.6,191.10000000000002" stroke="#ec5a62" stroke-width="0.8"/>
<text x="118.2" y="187.85000000000002" font-size="3" textLength="21.7" lengthAdjust="spacingAndGlyphs" style="font-family:'Liberation Sans', sans-serif;fill:#111;stroke:#111;stroke-width:0.07">Average velocity</text>
<text x="118.2" y="192.15" font-size="3" textLength="33.2" lengthAdjust="spacingAndGlyphs" style="font-family:'Liberation Sans', sans-serif;fill:#111;stroke:#111;stroke-width:0.07">Solids volume fraction(ε)</text>
<text x="104.8" y="226.8" font-size="2.65" textLength="16.4" lengthAdjust="spacingAndGlyphs" style="font-family:'Liberation Sans', sans-serif;fill:#111;stroke:#111;stroke-width:0.07">clogging time</text>
<path d="M90.6,228.3 C94,226.6 98,226.2 102,225.9" stroke="#111" stroke-width="0.5" fill="none"/>
<path d="M104.3,225.8 L101.8,224.8 L101.9,226.9Z" fill="#111"/>
<rect x="185.7" y="180.5" width="75.80000000000001" height="60.099999999999994" fill="#fff" stroke="#5a5a5a" stroke-width="0.42"/>
<path d="M192.4,180.5 L192.4,240.6" stroke="#9a9a9a" stroke-width="0.4"/>
<path d="M223.7,180.5 L223.7,240.6" stroke="#9a9a9a" stroke-width="0.4"/>
<path d="M234.6,180.5 L234.6,240.6" stroke="#9a9a9a" stroke-width="0.4"/>
<path d="M185.7,186.8 L186.7,186.8 M261.5,186.8 L260.5,186.8" stroke="#444" stroke-width="0.35"/>
<text x="184.1" y="187.85" text-anchor="end" font-size="2.7" style="font-family:'Liberation Sans', sans-serif;fill:#111;stroke:#111;stroke-width:0.07">0.25</text>
<text x="263.3" y="187.85" font-size="2.7" style="font-family:'Liberation Sans', sans-serif;fill:#111;stroke:#111;stroke-width:0.07">0.25</text>
<path d="M185.7,197.6 L186.7,197.6 M261.5,197.6 L260.5,197.6" stroke="#444" stroke-width="0.35"/>
<text x="184.1" y="198.65" text-anchor="end" font-size="2.7" style="font-family:'Liberation Sans', sans-serif;fill:#111;stroke:#111;stroke-width:0.07">0.20</text>
<text x="263.3" y="198.65" font-size="2.7" style="font-family:'Liberation Sans', sans-serif;fill:#111;stroke:#111;stroke-width:0.07">0.20</text>
<path d="M185.7,208.3 L186.7,208.3 M261.5,208.3 L260.5,208.3" stroke="#444" stroke-width="0.35"/>
<text x="184.1" y="209.35" text-anchor="end" font-size="2.7" style="font-family:'Liberation Sans', sans-serif;fill:#111;stroke:#111;stroke-width:0.07">0.15</text>
<text x="263.3" y="209.35" font-size="2.7" style="font-family:'Liberation Sans', sans-serif;fill:#111;stroke:#111;stroke-width:0.07">0.15</text>
<path d="M185.7,219.1 L186.7,219.1 M261.5,219.1 L260.5,219.1" stroke="#444" stroke-width="0.35"/>
<text x="184.1" y="220.15" text-anchor="end" font-size="2.7" style="font-family:'Liberation Sans', sans-serif;fill:#111;stroke:#111;stroke-width:0.07">0.10</text>
<text x="263.3" y="220.15" font-size="2.7" style="font-family:'Liberation Sans', sans-serif;fill:#111;stroke:#111;stroke-width:0.07">0.10</text>
<path d="M185.7,229.9 L186.7,229.9 M261.5,229.9 L260.5,229.9" stroke="#444" stroke-width="0.35"/>
<text x="184.1" y="230.95" text-anchor="end" font-size="2.7" style="font-family:'Liberation Sans', sans-serif;fill:#111;stroke:#111;stroke-width:0.07">0.05</text>
<text x="263.3" y="230.95" font-size="2.7" style="font-family:'Liberation Sans', sans-serif;fill:#111;stroke:#111;stroke-width:0.07">0.05</text>
<path d="M185.7,240.6 L186.7,240.6 M261.5,240.6 L260.5,240.6" stroke="#444" stroke-width="0.35"/>
<text x="184.1" y="241.65" text-anchor="end" font-size="2.7" style="font-family:'Liberation Sans', sans-serif;fill:#111;stroke:#111;stroke-width:0.07">0.00</text>
<text x="263.3" y="241.65" font-size="2.7" style="font-family:'Liberation Sans', sans-serif;fill:#111;stroke:#111;stroke-width:0.07">0.00</text>
<path d="M185.8,240.6 L185.8,239.6" stroke="#444" stroke-width="0.35"/>
<text x="185.8" y="245.2" text-anchor="middle" font-size="2.7" style="font-family:'Liberation Sans', sans-serif;fill:#111;stroke:#111;stroke-width:0.07">0.0</text>
<path d="M195.9,240.6 L195.9,239.6" stroke="#444" stroke-width="0.35"/>
<text x="195.9" y="245.2" text-anchor="middle" font-size="2.7" style="font-family:'Liberation Sans', sans-serif;fill:#111;stroke:#111;stroke-width:0.07">0.5</text>
<path d="M206.0,240.6 L206.0,239.6" stroke="#444" stroke-width="0.35"/>
<text x="206.0" y="245.2" text-anchor="middle" font-size="2.7" style="font-family:'Liberation Sans', sans-serif;fill:#111;stroke:#111;stroke-width:0.07">1.0</text>
<path d="M216.10000000000002,240.6 L216.10000000000002,239.6" stroke="#444" stroke-width="0.35"/>
<text x="216.10000000000002" y="245.2" text-anchor="middle" font-size="2.7" style="font-family:'Liberation Sans', sans-serif;fill:#111;stroke:#111;stroke-width:0.07">1.5</text>
<path d="M226.20000000000002,240.6 L226.20000000000002,239.6" stroke="#444" stroke-width="0.35"/>
<text x="226.20000000000002" y="245.2" text-anchor="middle" font-size="2.7" style="font-family:'Liberation Sans', sans-serif;fill:#111;stroke:#111;stroke-width:0.07">2.0</text>
<path d="M236.3,240.6 L236.3,239.6" stroke="#444" stroke-width="0.35"/>
<text x="236.3" y="245.2" text-anchor="middle" font-size="2.7" style="font-family:'Liberation Sans', sans-serif;fill:#111;stroke:#111;stroke-width:0.07">2.5</text>
<path d="M246.4,240.6 L246.4,239.6" stroke="#444" stroke-width="0.35"/>
<text x="246.4" y="245.2" text-anchor="middle" font-size="2.7" style="font-family:'Liberation Sans', sans-serif;fill:#111;stroke:#111;stroke-width:0.07">3.0</text>
<path d="M256.5,240.6 L256.5,239.6" stroke="#444" stroke-width="0.35"/>
<text x="256.5" y="245.2" text-anchor="middle" font-size="2.7" style="font-family:'Liberation Sans', sans-serif;fill:#111;stroke:#111;stroke-width:0.07">3.5</text>
<text x="223.60" y="250.2" text-anchor="middle" font-size="3.6" style="font-family:'Liberation Sans', sans-serif;fill:#111;stroke:#111;stroke-width:0.07">Time(s)</text>
<text transform="translate(177.90,210.25) rotate(-90)" text-anchor="middle" font-size="3.6" textLength="37" lengthAdjust="spacingAndGlyphs" style="font-family:'Liberation Sans', sans-serif;fill:#111;stroke:#111;stroke-width:0.07">Average velocity(cm/s)</text>
<text transform="translate(273.20,210.55) rotate(-90)" text-anchor="middle" font-size="3.6" textLength="37.5" lengthAdjust="spacingAndGlyphs" style="font-family:'Liberation Sans', sans-serif;fill:#111;stroke:#111;stroke-width:0.07">Solid volume fraction ε</text>
<path d="M185.90,240.50 L186.10,207.70 L187.00,196.30 L188.25,198.90 L189.90,197.00 L191.30,204.00 L192.40,210.30 L193.60,206.00 L195.20,202.70 L197.20,200.00 L199.00,198.20 L200.30,197.30 L201.60,199.50 L203.00,195.00 L204.60,189.50 L206.00,186.20 L207.60,190.50 L209.80,196.30 L211.50,193.50 L213.30,191.00 L214.80,193.00 L216.20,194.40 L217.80,190.50 L219.10,186.80 L220.50,192.00 L221.90,198.90 L223.00,207.00 L223.50,211.40 L224.60,207.00 L225.90,204.10 L227.60,208.00 L229.60,214.50 L231.20,219.50 L232.70,223.80 L234.20,226.00 L235.80,226.90 L239.00,227.20 L242.00,227.30 L244.50,226.60 L247.10,225.80 L249.20,227.00 L251.30,227.90 L255.40,227.90 L256.80,228.30 L258.10,229.30" fill="none" stroke="#ec5a62" stroke-width="0.75" stroke-linejoin="round"/>
<path d="M185.80,240.30 L186.20,231.00 L186.60,224.80 L187.40,228.00 L188.30,230.00 L189.80,230.80 L191.40,230.60 L192.80,228.00 L194.00,226.40 L195.20,227.80 L196.50,228.50 L198.20,226.50 L199.60,224.40 L200.60,226.50 L201.70,227.90 L203.20,228.60 L204.80,228.50 L206.80,226.60 L208.90,225.80 L211.00,227.00 L213.00,227.90 L215.00,228.60 L217.20,228.90 L218.80,227.60 L220.30,225.80 L222.00,222.60 L223.80,220.20 L225.20,220.20 L226.50,220.70 L228.00,222.60 L229.60,224.40 L231.60,225.00 L233.70,225.20 L235.80,223.60 L237.90,222.30 L240.00,222.10 L242.00,221.70 L244.00,221.00 L246.10,220.70 L248.20,221.40 L250.20,221.70 L251.80,220.80 L253.30,220.20 L254.40,220.90 L255.40,221.30 L256.80,220.40 L258.10,219.20" fill="none" stroke="#4577cc" stroke-width="0.75" stroke-linejoin="round"/>
<path d="M216.4,182.7 L223.0,182.7" stroke="#4577cc" stroke-width="0.8"/>
<path d="M216.4,187.0 L223.0,187.0" stroke="#ec5a62" stroke-width="0.8"/>
<text x="224.6" y="183.75" font-size="3" textLength="21.7" lengthAdjust="spacingAndGlyphs" style="font-family:'Liberation Sans', sans-serif;fill:#111;stroke:#111;stroke-width:0.07">Average velocity</text>
<text x="224.6" y="188.04999999999998" font-size="3" textLength="33.2" lengthAdjust="spacingAndGlyphs" style="font-family:'Liberation Sans', sans-serif;fill:#111;stroke:#111;stroke-width:0.07">Solids volume fraction(ε)</text>
<text x="244.2" y="210.9" font-size="2.65" textLength="15.4" lengthAdjust="spacingAndGlyphs" style="font-family:'Liberation Sans', sans-serif;fill:#111;stroke:#111;stroke-width:0.07">clogging time</text>
<path d="M235,213.2 C238,211.6 240,210.8 242,210.4" stroke="#111" stroke-width="0.5" fill="none"/>
<path d="M244,210.1 L241.5,209.3 L241.8,211.4Z" fill="#111"/>
<text x="201.9" y="234.0" font-size="2.65" textLength="17.4" lengthAdjust="spacingAndGlyphs" style="font-family:'Liberation Sans', sans-serif;fill:#111;stroke:#111;stroke-width:0.07">first destruction</text>
<path d="M192.6,235.2 C195,234 197.5,233.5 199.6,233.2" stroke="#111" stroke-width="0.5" fill="none"/>
<path d="M201.6,233 L199.2,232.1 L199.3,234.2Z" fill="#111"/>
<text x="233.3" y="238.2" font-size="2.65" textLength="20" lengthAdjust="spacingAndGlyphs" style="font-family:'Liberation Sans', sans-serif;fill:#111;stroke:#111;stroke-width:0.07">second destruction</text>
<path d="M224,231 L230.4,235.8" stroke="#111" stroke-width="0.5" fill="none"/>
<path d="M232.2,237.1 L229.6,236.5 L230.9,234.8Z" fill="#111"/>
<rect x="290.2" y="180.4" width="75.10000000000002" height="59.599999999999994" fill="#fff" stroke="#5a5a5a" stroke-width="0.42"/>
<path d="M327.6,180.4 L327.6,240" stroke="#9a9a9a" stroke-width="0.4"/>
<path d="M345.4,180.4 L345.4,240" stroke="#9a9a9a" stroke-width="0.4"/>
<path d="M290.2,183.7 L291.2,183.7 M365.3,183.7 L364.3,183.7" stroke="#444" stroke-width="0.35"/>
<text x="288.59999999999997" y="184.75" text-anchor="end" font-size="3" style="font-family:'Liberation Sans', sans-serif;fill:#111;stroke:#111;stroke-width:0.07">0.30</text>
<text x="367.1" y="184.75" font-size="3" style="font-family:'Liberation Sans', sans-serif;fill:#111;stroke:#111;stroke-width:0.07">0.30</text>
<path d="M290.2,193.1 L291.2,193.1 M365.3,193.1 L364.3,193.1" stroke="#444" stroke-width="0.35"/>
<text x="288.59999999999997" y="194.15" text-anchor="end" font-size="3" style="font-family:'Liberation Sans', sans-serif;fill:#111;stroke:#111;stroke-width:0.07">0.25</text>
<text x="367.1" y="194.15" font-size="3" style="font-family:'Liberation Sans', sans-serif;fill:#111;stroke:#111;stroke-width:0.07">0.25</text>
<path d="M290.2,202.5 L291.2,202.5 M365.3,202.5 L364.3,202.5" stroke="#444" stroke-width="0.35"/>
<text x="288.59999999999997" y="203.55" text-anchor="end" font-size="3" style="font-family:'Liberation Sans', sans-serif;fill:#111;stroke:#111;stroke-width:0.07">0.20</text>
<text x="367.1" y="203.55" font-size="3" style="font-family:'Liberation Sans', sans-serif;fill:#111;stroke:#111;stroke-width:0.07">0.20</text>
<path d="M290.2,211.9 L291.2,211.9 M365.3,211.9 L364.3,211.9" stroke="#444" stroke-width="0.35"/>
<text x="288.59999999999997" y="212.95" text-anchor="end" font-size="3" style="font-family:'Liberation Sans', sans-serif;fill:#111;stroke:#111;stroke-width:0.07">0.15</text>
<text x="367.1" y="212.95" font-size="3" style="font-family:'Liberation Sans', sans-serif;fill:#111;stroke:#111;stroke-width:0.07">0.15</text>
<path d="M290.2,221.2 L291.2,221.2 M365.3,221.2 L364.3,221.2" stroke="#444" stroke-width="0.35"/>
<text x="288.59999999999997" y="222.25" text-anchor="end" font-size="3" style="font-family:'Liberation Sans', sans-serif;fill:#111;stroke:#111;stroke-width:0.07">0.10</text>
<text x="367.1" y="222.25" font-size="3" style="font-family:'Liberation Sans', sans-serif;fill:#111;stroke:#111;stroke-width:0.07">0.10</text>
<path d="M290.2,230.6 L291.2,230.6 M365.3,230.6 L364.3,230.6" stroke="#444" stroke-width="0.35"/>
<text x="288.59999999999997" y="231.65" text-anchor="end" font-size="3" style="font-family:'Liberation Sans', sans-serif;fill:#111;stroke:#111;stroke-width:0.07">0.05</text>
<text x="367.1" y="231.65" font-size="3" style="font-family:'Liberation Sans', sans-serif;fill:#111;stroke:#111;stroke-width:0.07">0.05</text>
<path d="M290.2,240 L291.2,240 M365.3,240 L364.3,240" stroke="#444" stroke-width="0.35"/>
<text x="288.59999999999997" y="241.05" text-anchor="end" font-size="3" style="font-family:'Liberation Sans', sans-serif;fill:#111;stroke:#111;stroke-width:0.07">0.00</text>
<text x="367.1" y="241.05" font-size="3" style="font-family:'Liberation Sans', sans-serif;fill:#111;stroke:#111;stroke-width:0.07">0.00</text>
<path d="M290.0,240 L290.0,239" stroke="#444" stroke-width="0.35"/>
<text x="290.0" y="244.6" text-anchor="middle" font-size="3" style="font-family:'Liberation Sans', sans-serif;fill:#111;stroke:#111;stroke-width:0.07">0.0</text>
<path d="M296.4,240 L296.4,239" stroke="#444" stroke-width="0.35"/>
<text x="296.4" y="244.6" text-anchor="middle" font-size="3" style="font-family:'Liberation Sans', sans-serif;fill:#111;stroke:#111;stroke-width:0.07">0.5</text>
<path d="M302.8,240 L302.8,239" stroke="#444" stroke-width="0.35"/>
<text x="302.8" y="244.6" text-anchor="middle" font-size="3" style="font-family:'Liberation Sans', sans-serif;fill:#111;stroke:#111;stroke-width:0.07">1.0</text>
<path d="M309.2,240 L309.2,239" stroke="#444" stroke-width="0.35"/>
<text x="309.2" y="244.6" text-anchor="middle" font-size="3" style="font-family:'Liberation Sans', sans-serif;fill:#111;stroke:#111;stroke-width:0.07">1.5</text>
<path d="M315.6,240 L315.6,239" stroke="#444" stroke-width="0.35"/>
<text x="315.6" y="244.6" text-anchor="middle" font-size="3" style="font-family:'Liberation Sans', sans-serif;fill:#111;stroke:#111;stroke-width:0.07">2.0</text>
<path d="M322.0,240 L322.0,239" stroke="#444" stroke-width="0.35"/>
<text x="322.0" y="244.6" text-anchor="middle" font-size="3" style="font-family:'Liberation Sans', sans-serif;fill:#111;stroke:#111;stroke-width:0.07">2.5</text>
<path d="M328.4,240 L328.4,239" stroke="#444" stroke-width="0.35"/>
<text x="328.4" y="244.6" text-anchor="middle" font-size="3" style="font-family:'Liberation Sans', sans-serif;fill:#111;stroke:#111;stroke-width:0.07">3.0</text>
<path d="M334.8,240 L334.8,239" stroke="#444" stroke-width="0.35"/>
<text x="334.8" y="244.6" text-anchor="middle" font-size="3" style="font-family:'Liberation Sans', sans-serif;fill:#111;stroke:#111;stroke-width:0.07">3.5</text>
<path d="M341.2,240 L341.2,239" stroke="#444" stroke-width="0.35"/>
<text x="341.2" y="244.6" text-anchor="middle" font-size="3" style="font-family:'Liberation Sans', sans-serif;fill:#111;stroke:#111;stroke-width:0.07">4.0</text>
<path d="M347.6,240 L347.6,239" stroke="#444" stroke-width="0.35"/>
<text x="347.6" y="244.6" text-anchor="middle" font-size="3" style="font-family:'Liberation Sans', sans-serif;fill:#111;stroke:#111;stroke-width:0.07">4.5</text>
<path d="M354.0,240 L354.0,239" stroke="#444" stroke-width="0.35"/>
<text x="354.0" y="244.6" text-anchor="middle" font-size="3" style="font-family:'Liberation Sans', sans-serif;fill:#111;stroke:#111;stroke-width:0.07">5.0</text>
<path d="M360.4,240 L360.4,239" stroke="#444" stroke-width="0.35"/>
<text x="360.4" y="244.6" text-anchor="middle" font-size="3" style="font-family:'Liberation Sans', sans-serif;fill:#111;stroke:#111;stroke-width:0.07">5.5</text>
<text x="327.75" y="249.6" text-anchor="middle" font-size="3.6" style="font-family:'Liberation Sans', sans-serif;fill:#111;stroke:#111;stroke-width:0.07">Time(s)</text>
<text transform="translate(280.50,209.90) rotate(-90)" text-anchor="middle" font-size="3.6" textLength="39.4" lengthAdjust="spacingAndGlyphs" style="font-family:'Liberation Sans', sans-serif;fill:#111;stroke:#111;stroke-width:0.07">Average velocity(cm/s)</text>
<text transform="translate(377.20,210.20) rotate(-90)" text-anchor="middle" font-size="3.6" textLength="37.5" lengthAdjust="spacingAndGlyphs" style="font-family:'Liberation Sans', sans-serif;fill:#111;stroke:#111;stroke-width:0.07">Solid volume fraction ε</text>
<path d="M290.20,240.00 L290.30,196.30 L291.00,193.80 L292.90,190.60 L294.10,192.30 L295.40,189.00 L296.70,186.20 L298.60,187.40 L299.50,189.30 L301.10,187.70 L303.00,188.70 L304.50,190.60 L306.20,187.70 L307.10,188.70 L308.70,195.00 L310.00,191.90 L311.90,197.00 L313.20,196.30 L315.10,191.90 L316.70,187.20 L318.00,189.30 L319.50,188.80 L320.80,188.40 L322.70,193.80 L323.70,199.50 L324.60,204.60 L325.90,199.50 L327.10,198.90 L328.40,203.30 L330.00,205.80 L331.20,202.80 L332.20,200.10 L334.10,198.20 L335.40,197.00 L336.70,191.90 L337.90,197.40 L339.50,208.50 L340.80,212.60 L342.70,214.10 L345.20,215.20 L349.00,216.60 L351.50,216.20 L353.50,215.80 L355.40,217.20 L357.90,217.30 L361.10,216.00 L363.30,216.70" fill="none" stroke="#ec5a62" stroke-width="0.75" stroke-linejoin="round"/>
<path d="M290.00,240.00 L290.20,232.00 L290.50,227.00 L291.40,229.60 L292.50,231.25 L294.80,232.80 L297.00,233.00 L300.00,232.00 L302.00,231.00 L303.75,230.50 L305.60,230.50 L307.50,229.50 L309.50,230.50 L312.00,229.00 L313.50,230.20 L315.00,231.25 L318.75,232.00 L322.50,231.25 L324.40,230.20 L326.25,228.75 L328.00,227.00 L329.50,226.00 L331.00,227.60 L332.50,229.50 L334.40,231.20 L336.25,232.00 L338.00,231.20 L340.00,230.00 L343.75,228.75 L346.25,229.50 L350.00,228.50 L353.75,228.00 L357.50,228.25 L360.00,227.00 L363.00,227.00" fill="none" stroke="#4577cc" stroke-width="0.75" stroke-linejoin="round"/>
<path d="M321.6,183 L328.20000000000005,183" stroke="#4577cc" stroke-width="0.8"/>
<path d="M321.6,187.3 L328.20000000000005,187.3" stroke="#ec5a62" stroke-width="0.8"/>
<text x="329.8" y="184.05" font-size="3" textLength="21.7" lengthAdjust="spacingAndGlyphs" style="font-family:'Liberation Sans', sans-serif;fill:#111;stroke:#111;stroke-width:0.07">Average velocity</text>
<text x="329.8" y="188.35" font-size="3" textLength="33.2" lengthAdjust="spacingAndGlyphs" style="font-family:'Liberation Sans', sans-serif;fill:#111;stroke:#111;stroke-width:0.07">Solids volume fraction(ε)</text>
<text x="347.8" y="212.6" font-size="2.65" textLength="17.2" lengthAdjust="spacingAndGlyphs" style="font-family:'Liberation Sans', sans-serif;fill:#111;stroke:#111;stroke-width:0.07">clogging time</text>
<path d="M345.3,202 L352.8,208.5" stroke="#111" stroke-width="0.5" fill="none"/>
<path d="M354.4,209.9 L351.7,209.2 L353.1,207.5Z" fill="#111"/>
<text x="305.5" y="218" font-size="2.65" textLength="14" lengthAdjust="spacingAndGlyphs" style="font-family:'Liberation Sans', sans-serif;fill:#111;stroke:#111;stroke-width:0.07">destruction</text>
<path d="M320,217.6 L326,221" stroke="#111" stroke-width="0.5" fill="none"/>
<path d="M327.8,222.1 L325.1,221.8 L326.2,219.9Z" fill="#111"/>
</svg>
</body></html>
